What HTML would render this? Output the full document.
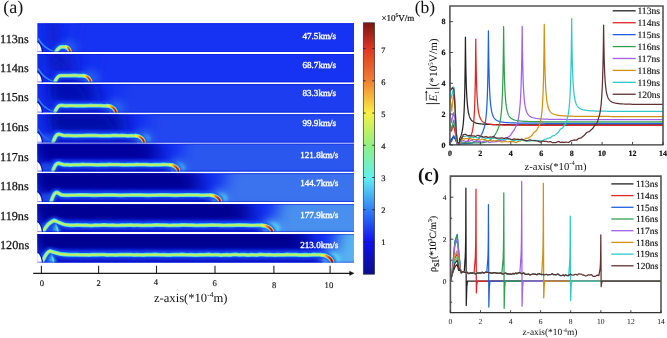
<!DOCTYPE html>
<html><head><meta charset="utf-8"><title>figure</title>
<style>html,body{margin:0;padding:0;background:#fff;width:667px;height:338px;overflow:hidden}#w{will-change:transform;width:667px;height:338px}svg{display:block}</style>
</head><body><div id="w">
<svg width="667" height="338" viewBox="0 0 667 338" font-family='"Liberation Serif", serif' fill="#111" text-rendering="geometricPrecision"><defs>
<linearGradient id="cbg" x1="0" y1="0" x2="0" y2="1"><stop offset="0.0000" stop-color="#7a1510"/><stop offset="0.1026" stop-color="#e03525"/><stop offset="0.2308" stop-color="#f08030"/><stop offset="0.3590" stop-color="#f8f040"/><stop offset="0.4872" stop-color="#90f080"/><stop offset="0.6154" stop-color="#60f0f0"/><stop offset="0.7436" stop-color="#3080f8"/><stop offset="0.8718" stop-color="#1010f0"/><stop offset="1.0000" stop-color="#0c0c8c"/></linearGradient>
<filter id="b1" x="-50%" y="-50%" width="200%" height="200%"><feGaussianBlur stdDeviation="0.6"/></filter>
<filter id="b2" x="-50%" y="-50%" width="200%" height="200%"><feGaussianBlur stdDeviation="1.5"/></filter>
<filter id="b4" x="-50%" y="-50%" width="200%" height="200%"><feGaussianBlur stdDeviation="4"/></filter>
<filter id="b8" x="-50%" y="-50%" width="200%" height="200%"><feGaussianBlur stdDeviation="8"/></filter>
<filter id="b12" x="-50%" y="-50%" width="200%" height="200%"><feGaussianBlur stdDeviation="12"/></filter>
</defs>
<clipPath id="clip0"><rect x="37.20" y="23.30" width="316.80" height="28.80"/></clipPath>
<g clip-path="url(#clip0)">
<rect x="37.20" y="21.30" width="316.80" height="32.80" fill="#1230f2"/>
<path d="M68.18 64.10 L78.18 11.30 L384.00 11.30 L384.00 64.10 Z" fill="#1230f2" filter="url(#b8)"/>
<path d="M45.20 17.30 L58.18 17.30 L62.18 46.70 L47.20 46.70 Z" fill="#0a1ecc" fill-opacity="0.7" filter="url(#b4)"/>
<ellipse cx="69.18" cy="48.10" rx="8.0" ry="7" fill="#2c64f0" filter="url(#b4)"/>
<path d="M38.00 38.10 Q43.20 48.10 54.20 51.60" stroke="#40a8f0" stroke-width="1.5" fill="none" stroke-opacity="0.75" filter="url(#b1)"/>
<path d="M37.70 24.30 L37.70 41.10" stroke="#3a90f0" stroke-width="2" fill="none" stroke-opacity="0.6" filter="url(#b2)"/>
<path d="M55.50 52.60 C57.50 49.10 59.00 46.70 62.50 46.70 C66.00 46.70 69.38 48.10 70.18 52.90" stroke="#1a50f0" stroke-width="7" fill="none" filter="url(#b2)"/>
<path d="M55.50 52.60 C57.50 49.10 59.00 46.70 62.50 46.70 C66.00 46.70 69.38 48.10 70.18 52.90" stroke="#40d8f0" stroke-width="3.9" fill="none" filter="url(#b1)"/>
<path d="M55.50 52.60 C57.50 49.10 59.00 46.70 62.50 46.70 C66.00 46.70 69.38 48.10 70.18 52.90" stroke="#98f0a0" stroke-width="2.6" fill="none" filter="url(#b1)"/>
<path d="M55.50 52.60 C57.50 49.10 59.00 46.70 62.50 46.70 C66.00 46.70 69.38 48.10 70.18 52.90" stroke="#c0f060" stroke-width="1.5" fill="none"/>
<linearGradient id="og0" gradientUnits="userSpaceOnUse" x1="65.18" y1="0" x2="70.18" y2="0"><stop offset="0.15" stop-color="#f0e040" stop-opacity="0"/><stop offset="0.55" stop-color="#f0a030"/><stop offset="1" stop-color="#f08020"/></linearGradient>
<linearGradient id="rg0" gradientUnits="userSpaceOnUse" x1="65.18" y1="0" x2="70.18" y2="0"><stop offset="0.35" stop-color="#f05020" stop-opacity="0"/><stop offset="0.75" stop-color="#e83a1c"/><stop offset="1" stop-color="#d82010"/></linearGradient>
<linearGradient id="dg0" gradientUnits="userSpaceOnUse" x1="65.18" y1="0" x2="70.18" y2="0"><stop offset="0.6" stop-color="#900c0c" stop-opacity="0"/><stop offset="0.85" stop-color="#900c0c" stop-opacity="0.5"/><stop offset="1" stop-color="#900c0c"/></linearGradient>
<path d="M64.68 46.70 C67.68 46.70 69.58 48.90 70.18 52.90" stroke="#48d8f0" stroke-width="4.0" fill="none" filter="url(#b1)"/>
<path d="M64.68 46.70 C67.68 46.70 69.58 48.90 70.18 52.90" stroke="#e8f040" stroke-width="2.7" fill="none"/>
<path d="M64.68 46.70 C67.68 46.70 69.58 48.90 70.18 52.90" stroke="url(#og0)" stroke-width="2.2" fill="none"/>
<path d="M64.68 46.70 C67.68 46.70 69.58 48.90 70.18 52.90" stroke="url(#rg0)" stroke-width="1.6" fill="none"/>
<path d="M37.00 42.10 C39.60 43.50 41.50 47.10 42.00 53.10" stroke="#0808b0" stroke-width="2.2" fill="none" filter="url(#b1)"/>
<path d="M36.20 42.10 L37.00 42.10 C39.60 43.50 41.50 47.10 42.00 53.10 L36.20 53.10 Z" fill="#fff"/>
<line x1="37.20" y1="23.75" x2="354.00" y2="23.75" stroke="#0814d8" stroke-opacity="0.55" stroke-width="0.9"/>
<line x1="37.20" y1="51.65" x2="354.00" y2="51.65" stroke="#0814d8" stroke-opacity="0.55" stroke-width="0.9"/>
</g>
<clipPath id="clip1"><rect x="37.20" y="54.00" width="316.80" height="28.30"/></clipPath>
<g clip-path="url(#clip1)">
<rect x="37.20" y="52.00" width="316.80" height="32.30" fill="#1230f2"/>
<path d="M88.68 94.30 L98.68 42.00 L384.00 42.00 L384.00 94.30 Z" fill="#1432f2" filter="url(#b8)"/>
<path d="M46.20 42.00 L67.08 42.00 L79.68 73.60 L49.20 73.60 Z" fill="#0816c0" fill-opacity="0.9" filter="url(#b8)"/>
<path d="M52.20 46.00 L46.55 46.00 L66.68 71.60 L55.20 71.60 Z" fill="#0816c0" filter="url(#b4)"/>
<rect x="51.20" y="70.10" width="35.48" height="5.00" fill="#0c22ea" fill-opacity="0.75" filter="url(#b2)"/>
<rect x="53.20" y="77.10" width="31.48" height="6.70" fill="#0a18cc" filter="url(#b1)"/>
<ellipse cx="89.68" cy="78.30" rx="9.2" ry="7" fill="#2c68f0" filter="url(#b4)"/>
<path d="M38.00 68.30 Q43.20 78.30 54.20 81.80" stroke="#40a8f0" stroke-width="1.5" fill="none" stroke-opacity="0.75" filter="url(#b1)"/>
<path d="M37.70 55.00 L37.70 71.30" stroke="#3a90f0" stroke-width="2" fill="none" stroke-opacity="0.6" filter="url(#b2)"/>
<path d="M54.70 82.80 C56.20 78.30 57.70 75.60 60.70 75.60 C62.70 75.60 63.70 75.60 66.70 75.60 L69.70 75.61 L72.70 75.46 L75.70 75.41 L78.70 75.80 L82.68 75.60 L82.68 75.60 C87.10 75.60 90.68 78.96 90.68 83.10" stroke="#1a50f0" stroke-width="7" fill="none" filter="url(#b2)"/>
<path d="M54.70 82.80 C56.20 78.30 57.70 75.60 60.70 75.60 C62.70 75.60 63.70 75.60 66.70 75.60 L69.70 75.61 L72.70 75.46 L75.70 75.41 L78.70 75.80 L82.68 75.60 L82.68 75.60 C87.10 75.60 90.68 78.96 90.68 83.10" stroke="#40d8f0" stroke-width="3.9" fill="none" filter="url(#b1)"/>
<path d="M54.70 82.80 C56.20 78.30 57.70 75.60 60.70 75.60 C62.70 75.60 63.70 75.60 66.70 75.60 L69.70 75.61 L72.70 75.46 L75.70 75.41 L78.70 75.80 L82.68 75.60 L82.68 75.60 C87.10 75.60 90.68 78.96 90.68 83.10" stroke="#98f0a0" stroke-width="2.6" fill="none" filter="url(#b1)"/>
<path d="M54.70 82.80 C56.20 78.30 57.70 75.60 60.70 75.60 C62.70 75.60 63.70 75.60 66.70 75.60 L69.70 75.61 L72.70 75.46 L75.70 75.41 L78.70 75.80 L82.68 75.60" stroke="#c0f060" stroke-width="1.5" fill="none"/>
<linearGradient id="og1" gradientUnits="userSpaceOnUse" x1="82.68" y1="0" x2="90.68" y2="0"><stop offset="0.15" stop-color="#f0e040" stop-opacity="0"/><stop offset="0.55" stop-color="#f0a030"/><stop offset="1" stop-color="#f08020"/></linearGradient>
<linearGradient id="rg1" gradientUnits="userSpaceOnUse" x1="82.68" y1="0" x2="90.68" y2="0"><stop offset="0.35" stop-color="#f05020" stop-opacity="0"/><stop offset="0.75" stop-color="#e83a1c"/><stop offset="1" stop-color="#d82010"/></linearGradient>
<linearGradient id="dg1" gradientUnits="userSpaceOnUse" x1="82.68" y1="0" x2="90.68" y2="0"><stop offset="0.6" stop-color="#900c0c" stop-opacity="0"/><stop offset="0.85" stop-color="#900c0c" stop-opacity="0.5"/><stop offset="1" stop-color="#900c0c"/></linearGradient>
<path d="M82.68 75.60 C87.10 75.60 90.68 78.96 90.68 83.10" stroke="#48d8f0" stroke-width="4.0" fill="none" filter="url(#b1)"/>
<path d="M82.68 75.60 C87.10 75.60 90.68 78.96 90.68 83.10" stroke="#e8f040" stroke-width="2.7" fill="none"/>
<path d="M82.68 75.60 C87.10 75.60 90.68 78.96 90.68 83.10" stroke="url(#og1)" stroke-width="2.2" fill="none"/>
<path d="M82.68 75.60 C87.10 75.60 90.68 78.96 90.68 83.10" stroke="url(#rg1)" stroke-width="1.6" fill="none"/>
<path d="M37.00 72.30 C39.60 73.70 41.50 77.30 42.00 83.30" stroke="#0808b0" stroke-width="2.2" fill="none" filter="url(#b1)"/>
<path d="M36.20 72.30 L37.00 72.30 C39.60 73.70 41.50 77.30 42.00 83.30 L36.20 83.30 Z" fill="#fff"/>
<line x1="37.20" y1="54.45" x2="354.00" y2="54.45" stroke="#0814d8" stroke-opacity="0.55" stroke-width="0.9"/>
<line x1="37.20" y1="81.85" x2="354.00" y2="81.85" stroke="#0814d8" stroke-opacity="0.55" stroke-width="0.9"/>
</g>
<clipPath id="clip2"><rect x="37.20" y="84.10" width="316.80" height="28.40"/></clipPath>
<g clip-path="url(#clip2)">
<rect x="37.20" y="82.10" width="316.80" height="32.40" fill="#1230f2"/>
<path d="M113.95 124.50 L123.95 72.10 L384.00 72.10 L384.00 124.50 Z" fill="#1a3cf0" filter="url(#b8)"/>
<path d="M46.20 72.10 L91.59 72.10 L103.95 103.70 L49.20 103.70 Z" fill="#0610b4" fill-opacity="0.9" filter="url(#b8)"/>
<path d="M52.20 76.10 L70.80 76.10 L90.95 101.70 L55.20 101.70 Z" fill="#0610b4" filter="url(#b4)"/>
<rect x="51.20" y="100.20" width="59.75" height="5.00" fill="#0c22ea" fill-opacity="0.75" filter="url(#b2)"/>
<rect x="53.20" y="107.20" width="55.75" height="6.80" fill="#0a18cc" filter="url(#b1)"/>
<ellipse cx="114.95" cy="108.50" rx="9.6" ry="7" fill="#3070f0" filter="url(#b4)"/>
<path d="M38.00 98.50 Q43.20 108.50 54.20 112.00" stroke="#40a8f0" stroke-width="1.5" fill="none" stroke-opacity="0.70" filter="url(#b1)"/>
<path d="M37.70 85.10 L37.70 101.50" stroke="#3a90f0" stroke-width="2" fill="none" stroke-opacity="0.6" filter="url(#b2)"/>
<path d="M54.70 113.00 C56.20 108.50 57.70 105.40 60.70 105.40 C62.70 105.40 63.70 105.70 66.70 105.70 L69.70 105.58 L72.70 105.66 L75.70 105.81 L78.70 105.82 L81.70 105.81 L84.70 105.80 L87.70 105.67 L90.70 105.57 L93.70 105.59 L96.70 105.59 L99.70 105.64 L102.70 105.80 L105.70 105.83 L106.95 105.70 L106.95 105.70 C111.93 105.70 115.95 109.10 115.95 113.30" stroke="#1a50f0" stroke-width="7" fill="none" filter="url(#b2)"/>
<path d="M54.70 113.00 C56.20 108.50 57.70 105.40 60.70 105.40 C62.70 105.40 63.70 105.70 66.70 105.70 L69.70 105.58 L72.70 105.66 L75.70 105.81 L78.70 105.82 L81.70 105.81 L84.70 105.80 L87.70 105.67 L90.70 105.57 L93.70 105.59 L96.70 105.59 L99.70 105.64 L102.70 105.80 L105.70 105.83 L106.95 105.70 L106.95 105.70 C111.93 105.70 115.95 109.10 115.95 113.30" stroke="#40d8f0" stroke-width="3.9" fill="none" filter="url(#b1)"/>
<path d="M54.70 113.00 C56.20 108.50 57.70 105.40 60.70 105.40 C62.70 105.40 63.70 105.70 66.70 105.70 L69.70 105.58 L72.70 105.66 L75.70 105.81 L78.70 105.82 L81.70 105.81 L84.70 105.80 L87.70 105.67 L90.70 105.57 L93.70 105.59 L96.70 105.59 L99.70 105.64 L102.70 105.80 L105.70 105.83 L106.95 105.70 L106.95 105.70 C111.93 105.70 115.95 109.10 115.95 113.30" stroke="#98f0a0" stroke-width="2.6" fill="none" filter="url(#b1)"/>
<path d="M54.70 113.00 C56.20 108.50 57.70 105.40 60.70 105.40 C62.70 105.40 63.70 105.70 66.70 105.70 L69.70 105.58 L72.70 105.66 L75.70 105.81 L78.70 105.82 L81.70 105.81 L84.70 105.80 L87.70 105.67 L90.70 105.57 L93.70 105.59 L96.70 105.59 L99.70 105.64 L102.70 105.80 L105.70 105.83 L106.95 105.70" stroke="#c0f060" stroke-width="1.5" fill="none"/>
<linearGradient id="og2" gradientUnits="userSpaceOnUse" x1="106.95" y1="0" x2="115.95" y2="0"><stop offset="0.15" stop-color="#f0e040" stop-opacity="0"/><stop offset="0.55" stop-color="#f0a030"/><stop offset="1" stop-color="#f08020"/></linearGradient>
<linearGradient id="rg2" gradientUnits="userSpaceOnUse" x1="106.95" y1="0" x2="115.95" y2="0"><stop offset="0.35" stop-color="#f05020" stop-opacity="0"/><stop offset="0.75" stop-color="#e83a1c"/><stop offset="1" stop-color="#d82010"/></linearGradient>
<linearGradient id="dg2" gradientUnits="userSpaceOnUse" x1="106.95" y1="0" x2="115.95" y2="0"><stop offset="0.6" stop-color="#900c0c" stop-opacity="0"/><stop offset="0.85" stop-color="#900c0c" stop-opacity="0.5"/><stop offset="1" stop-color="#900c0c"/></linearGradient>
<path d="M106.95 105.70 C111.93 105.70 115.95 109.10 115.95 113.30" stroke="#48d8f0" stroke-width="4.0" fill="none" filter="url(#b1)"/>
<path d="M106.95 105.70 C111.93 105.70 115.95 109.10 115.95 113.30" stroke="#e8f040" stroke-width="2.7" fill="none"/>
<path d="M106.95 105.70 C111.93 105.70 115.95 109.10 115.95 113.30" stroke="url(#og2)" stroke-width="2.2" fill="none"/>
<path d="M106.95 105.70 C111.93 105.70 115.95 109.10 115.95 113.30" stroke="url(#rg2)" stroke-width="1.6" fill="none"/>
<path d="M106.95 105.70 C111.93 105.70 115.95 109.10 115.95 113.30" stroke="url(#dg2)" stroke-width="0.8" fill="none"/>
<path d="M37.00 102.50 C39.60 103.90 41.50 107.50 42.00 113.50" stroke="#0808b0" stroke-width="2.2" fill="none" filter="url(#b1)"/>
<path d="M36.20 102.50 L37.00 102.50 C39.60 103.90 41.50 107.50 42.00 113.50 L36.20 113.50 Z" fill="#fff"/>
<line x1="37.20" y1="84.55" x2="354.00" y2="84.55" stroke="#0814d8" stroke-opacity="0.55" stroke-width="0.9"/>
<line x1="37.20" y1="112.05" x2="354.00" y2="112.05" stroke="#0814d8" stroke-opacity="0.55" stroke-width="0.9"/>
</g>
<clipPath id="clip3"><rect x="37.20" y="114.30" width="316.80" height="28.30"/></clipPath>
<g clip-path="url(#clip3)">
<rect x="37.20" y="112.30" width="316.80" height="32.30" fill="#1230f2"/>
<path d="M141.97 154.60 L151.97 102.30 L384.00 102.30 L384.00 154.60 Z" fill="#2046f0" filter="url(#b8)"/>
<path d="M46.20 102.30 L118.77 102.30 L131.97 133.60 L49.20 133.60 Z" fill="#040aa8" fill-opacity="0.9" filter="url(#b8)"/>
<path d="M52.20 106.30 L97.70 106.30 L118.97 131.60 L55.20 131.60 Z" fill="#040aa8" filter="url(#b4)"/>
<rect x="51.20" y="130.10" width="87.77" height="5.00" fill="#0c22ea" fill-opacity="0.75" filter="url(#b2)"/>
<rect x="53.20" y="137.10" width="83.77" height="7.00" fill="#0a18cc" filter="url(#b1)"/>
<ellipse cx="142.97" cy="138.60" rx="9.6" ry="7" fill="#3478f0" filter="url(#b4)"/>
<ellipse cx="144.47" cy="139.10" rx="6.2" ry="4.4" fill="#58d0f0" fill-opacity="0.40" filter="url(#b2)"/>
<path d="M38.00 128.60 Q43.20 138.60 54.20 142.10" stroke="#40a8f0" stroke-width="1.5" fill="none" stroke-opacity="0.45" filter="url(#b1)"/>
<ellipse cx="47.20" cy="138.60" rx="8" ry="5" fill="#2a60f0" fill-opacity="0.55" filter="url(#b2)"/>
<path d="M52.80 143.10 C54.30 138.60 55.80 134.20 58.80 134.20 C60.80 134.20 61.80 135.60 64.80 135.60 L67.80 135.57 L70.80 135.60 L73.80 135.79 L76.80 135.73 L79.80 135.62 L82.80 135.67 L85.80 135.49 L88.80 135.40 L91.80 135.57 L94.80 135.52 L97.80 135.59 L100.80 135.82 L103.80 135.69 L106.80 135.64 L109.80 135.71 L112.80 135.45 L115.80 135.42 L118.80 135.59 L121.80 135.46 L124.80 135.61 L127.80 135.84 L130.80 135.64 L133.80 135.69 L134.97 135.60 L134.97 135.60 C139.94 135.60 143.97 139.09 143.97 143.40" stroke="#1a50f0" stroke-width="7" fill="none" filter="url(#b2)"/>
<path d="M52.80 143.10 C54.30 138.60 55.80 134.20 58.80 134.20 C60.80 134.20 61.80 135.60 64.80 135.60 L67.80 135.57 L70.80 135.60 L73.80 135.79 L76.80 135.73 L79.80 135.62 L82.80 135.67 L85.80 135.49 L88.80 135.40 L91.80 135.57 L94.80 135.52 L97.80 135.59 L100.80 135.82 L103.80 135.69 L106.80 135.64 L109.80 135.71 L112.80 135.45 L115.80 135.42 L118.80 135.59 L121.80 135.46 L124.80 135.61 L127.80 135.84 L130.80 135.64 L133.80 135.69 L134.97 135.60 L134.97 135.60 C139.94 135.60 143.97 139.09 143.97 143.40" stroke="#40d8f0" stroke-width="3.9" fill="none" filter="url(#b1)"/>
<path d="M52.80 143.10 C54.30 138.60 55.80 134.20 58.80 134.20 C60.80 134.20 61.80 135.60 64.80 135.60 L67.80 135.57 L70.80 135.60 L73.80 135.79 L76.80 135.73 L79.80 135.62 L82.80 135.67 L85.80 135.49 L88.80 135.40 L91.80 135.57 L94.80 135.52 L97.80 135.59 L100.80 135.82 L103.80 135.69 L106.80 135.64 L109.80 135.71 L112.80 135.45 L115.80 135.42 L118.80 135.59 L121.80 135.46 L124.80 135.61 L127.80 135.84 L130.80 135.64 L133.80 135.69 L134.97 135.60 L134.97 135.60 C139.94 135.60 143.97 139.09 143.97 143.40" stroke="#98f0a0" stroke-width="2.6" fill="none" filter="url(#b1)"/>
<path d="M52.80 143.10 C54.30 138.60 55.80 134.20 58.80 134.20 C60.80 134.20 61.80 135.60 64.80 135.60 L67.80 135.57 L70.80 135.60 L73.80 135.79 L76.80 135.73 L79.80 135.62 L82.80 135.67 L85.80 135.49 L88.80 135.40 L91.80 135.57 L94.80 135.52 L97.80 135.59 L100.80 135.82 L103.80 135.69 L106.80 135.64 L109.80 135.71 L112.80 135.45 L115.80 135.42 L118.80 135.59 L121.80 135.46 L124.80 135.61 L127.80 135.84 L130.80 135.64 L133.80 135.69 L134.97 135.60" stroke="#c0f060" stroke-width="1.5" fill="none"/>
<linearGradient id="og3" gradientUnits="userSpaceOnUse" x1="134.97" y1="0" x2="143.97" y2="0"><stop offset="0.15" stop-color="#f0e040" stop-opacity="0"/><stop offset="0.55" stop-color="#f0a030"/><stop offset="1" stop-color="#f08020"/></linearGradient>
<linearGradient id="rg3" gradientUnits="userSpaceOnUse" x1="134.97" y1="0" x2="143.97" y2="0"><stop offset="0.35" stop-color="#f05020" stop-opacity="0"/><stop offset="0.75" stop-color="#e83a1c"/><stop offset="1" stop-color="#d82010"/></linearGradient>
<linearGradient id="dg3" gradientUnits="userSpaceOnUse" x1="134.97" y1="0" x2="143.97" y2="0"><stop offset="0.6" stop-color="#900c0c" stop-opacity="0"/><stop offset="0.85" stop-color="#900c0c" stop-opacity="0.5"/><stop offset="1" stop-color="#900c0c"/></linearGradient>
<path d="M134.97 135.60 C139.94 135.60 143.97 139.09 143.97 143.40" stroke="#48d8f0" stroke-width="4.0" fill="none" filter="url(#b1)"/>
<path d="M134.97 135.60 C139.94 135.60 143.97 139.09 143.97 143.40" stroke="#e8f040" stroke-width="2.7" fill="none"/>
<path d="M134.97 135.60 C139.94 135.60 143.97 139.09 143.97 143.40" stroke="url(#og3)" stroke-width="2.2" fill="none"/>
<path d="M134.97 135.60 C139.94 135.60 143.97 139.09 143.97 143.40" stroke="url(#rg3)" stroke-width="1.6" fill="none"/>
<path d="M134.97 135.60 C139.94 135.60 143.97 139.09 143.97 143.40" stroke="url(#dg3)" stroke-width="0.8" fill="none"/>
<path d="M37.00 132.60 C39.60 134.00 41.50 137.60 42.00 143.60" stroke="#0808b0" stroke-width="2.2" fill="none" filter="url(#b1)"/>
<path d="M36.20 132.60 L37.00 132.60 C39.60 134.00 41.50 137.60 42.00 143.60 L36.20 143.60 Z" fill="#fff"/>
<line x1="37.20" y1="114.75" x2="354.00" y2="114.75" stroke="#0814d8" stroke-opacity="0.55" stroke-width="0.9"/>
<line x1="37.20" y1="142.15" x2="354.00" y2="142.15" stroke="#0814d8" stroke-opacity="0.55" stroke-width="0.9"/>
</g>
<clipPath id="clip4"><rect x="37.20" y="143.70" width="316.80" height="27.70"/></clipPath>
<g clip-path="url(#clip4)">
<rect x="37.20" y="141.70" width="316.80" height="31.70" fill="#1230f2"/>
<path d="M176.48 183.40 L186.48 131.70 L384.00 131.70 L384.00 183.40 Z" fill="#2a58ef" filter="url(#b8)"/>
<path d="M33.20 131.70 L152.24 131.70 L165.98 162.70 L36.20 162.70 Z" fill="#02069e" fill-opacity="0.9" filter="url(#b8)"/>
<path d="M39.20 135.70 L130.83 135.70 L152.98 160.70 L42.20 160.70 Z" fill="#02069e" filter="url(#b4)"/>
<rect x="51.20" y="159.20" width="121.78" height="5.00" fill="#0c22ea" fill-opacity="0.75" filter="url(#b2)"/>
<rect x="53.20" y="166.20" width="117.78" height="6.70" fill="#0a18cc" filter="url(#b1)"/>
<ellipse cx="177.48" cy="167.40" rx="9.8" ry="7" fill="#3a80f0" filter="url(#b4)"/>
<ellipse cx="178.98" cy="167.90" rx="6.3" ry="4.7" fill="#58d0f0" fill-opacity="0.50" filter="url(#b2)"/>
<ellipse cx="47.20" cy="167.40" rx="8" ry="5" fill="#2a60f0" fill-opacity="0.55" filter="url(#b2)"/>
<path d="M52.50 171.90 C54.00 167.40 55.50 163.30 58.50 163.30 C60.50 163.30 61.50 164.70 64.50 164.70 L67.50 164.78 L70.50 164.94 L73.50 164.72 L76.50 164.77 L79.50 164.75 L82.50 164.48 L85.50 164.59 L88.50 164.67 L91.50 164.59 L94.50 164.82 L97.50 164.89 L100.50 164.73 L103.50 164.81 L106.50 164.71 L109.50 164.50 L112.50 164.61 L115.50 164.62 L118.50 164.60 L121.50 164.82 L124.50 164.85 L127.50 164.77 L130.50 164.82 L133.50 164.69 L136.50 164.54 L139.50 164.61 L142.50 164.59 L145.50 164.62 L148.50 164.80 L151.50 164.83 L154.50 164.80 L157.50 164.81 L160.50 164.69 L163.50 164.57 L166.50 164.59 L168.98 164.70 L168.98 164.70 C174.23 164.70 178.48 168.06 178.48 172.20" stroke="#1a50f0" stroke-width="7" fill="none" filter="url(#b2)"/>
<path d="M52.50 171.90 C54.00 167.40 55.50 163.30 58.50 163.30 C60.50 163.30 61.50 164.70 64.50 164.70 L67.50 164.78 L70.50 164.94 L73.50 164.72 L76.50 164.77 L79.50 164.75 L82.50 164.48 L85.50 164.59 L88.50 164.67 L91.50 164.59 L94.50 164.82 L97.50 164.89 L100.50 164.73 L103.50 164.81 L106.50 164.71 L109.50 164.50 L112.50 164.61 L115.50 164.62 L118.50 164.60 L121.50 164.82 L124.50 164.85 L127.50 164.77 L130.50 164.82 L133.50 164.69 L136.50 164.54 L139.50 164.61 L142.50 164.59 L145.50 164.62 L148.50 164.80 L151.50 164.83 L154.50 164.80 L157.50 164.81 L160.50 164.69 L163.50 164.57 L166.50 164.59 L168.98 164.70 L168.98 164.70 C174.23 164.70 178.48 168.06 178.48 172.20" stroke="#40d8f0" stroke-width="3.9" fill="none" filter="url(#b1)"/>
<path d="M52.50 171.90 C54.00 167.40 55.50 163.30 58.50 163.30 C60.50 163.30 61.50 164.70 64.50 164.70 L67.50 164.78 L70.50 164.94 L73.50 164.72 L76.50 164.77 L79.50 164.75 L82.50 164.48 L85.50 164.59 L88.50 164.67 L91.50 164.59 L94.50 164.82 L97.50 164.89 L100.50 164.73 L103.50 164.81 L106.50 164.71 L109.50 164.50 L112.50 164.61 L115.50 164.62 L118.50 164.60 L121.50 164.82 L124.50 164.85 L127.50 164.77 L130.50 164.82 L133.50 164.69 L136.50 164.54 L139.50 164.61 L142.50 164.59 L145.50 164.62 L148.50 164.80 L151.50 164.83 L154.50 164.80 L157.50 164.81 L160.50 164.69 L163.50 164.57 L166.50 164.59 L168.98 164.70 L168.98 164.70 C174.23 164.70 178.48 168.06 178.48 172.20" stroke="#98f0a0" stroke-width="2.6" fill="none" filter="url(#b1)"/>
<path d="M52.50 171.90 C54.00 167.40 55.50 163.30 58.50 163.30 C60.50 163.30 61.50 164.70 64.50 164.70 L67.50 164.78 L70.50 164.94 L73.50 164.72 L76.50 164.77 L79.50 164.75 L82.50 164.48 L85.50 164.59 L88.50 164.67 L91.50 164.59 L94.50 164.82 L97.50 164.89 L100.50 164.73 L103.50 164.81 L106.50 164.71 L109.50 164.50 L112.50 164.61 L115.50 164.62 L118.50 164.60 L121.50 164.82 L124.50 164.85 L127.50 164.77 L130.50 164.82 L133.50 164.69 L136.50 164.54 L139.50 164.61 L142.50 164.59 L145.50 164.62 L148.50 164.80 L151.50 164.83 L154.50 164.80 L157.50 164.81 L160.50 164.69 L163.50 164.57 L166.50 164.59 L168.98 164.70" stroke="#c0f060" stroke-width="1.5" fill="none"/>
<linearGradient id="og4" gradientUnits="userSpaceOnUse" x1="168.98" y1="0" x2="178.48" y2="0"><stop offset="0.15" stop-color="#f0e040" stop-opacity="0"/><stop offset="0.55" stop-color="#f0a030"/><stop offset="1" stop-color="#f08020"/></linearGradient>
<linearGradient id="rg4" gradientUnits="userSpaceOnUse" x1="168.98" y1="0" x2="178.48" y2="0"><stop offset="0.35" stop-color="#f05020" stop-opacity="0"/><stop offset="0.75" stop-color="#e83a1c"/><stop offset="1" stop-color="#d82010"/></linearGradient>
<linearGradient id="dg4" gradientUnits="userSpaceOnUse" x1="168.98" y1="0" x2="178.48" y2="0"><stop offset="0.6" stop-color="#900c0c" stop-opacity="0"/><stop offset="0.85" stop-color="#900c0c" stop-opacity="0.5"/><stop offset="1" stop-color="#900c0c"/></linearGradient>
<path d="M168.98 164.70 C174.23 164.70 178.48 168.06 178.48 172.20" stroke="#48d8f0" stroke-width="4.0" fill="none" filter="url(#b1)"/>
<path d="M168.98 164.70 C174.23 164.70 178.48 168.06 178.48 172.20" stroke="#e8f040" stroke-width="2.7" fill="none"/>
<path d="M168.98 164.70 C174.23 164.70 178.48 168.06 178.48 172.20" stroke="url(#og4)" stroke-width="2.2" fill="none"/>
<path d="M168.98 164.70 C174.23 164.70 178.48 168.06 178.48 172.20" stroke="url(#rg4)" stroke-width="2.0" fill="none"/>
<path d="M168.98 164.70 C174.23 164.70 178.48 168.06 178.48 172.20" stroke="url(#dg4)" stroke-width="0.8" fill="none"/>
<path d="M37.00 161.40 C39.60 162.80 41.50 166.40 42.00 172.40" stroke="#0808b0" stroke-width="2.2" fill="none" filter="url(#b1)"/>
<path d="M36.20 161.40 L37.00 161.40 C39.60 162.80 41.50 166.40 42.00 172.40 L36.20 172.40 Z" fill="#fff"/>
<line x1="37.20" y1="144.15" x2="354.00" y2="144.15" stroke="#0814d8" stroke-opacity="0.55" stroke-width="0.9"/>
<line x1="37.20" y1="170.95" x2="354.00" y2="170.95" stroke="#0814d8" stroke-opacity="0.55" stroke-width="0.9"/>
</g>
<clipPath id="clip5"><rect x="37.20" y="173.20" width="316.80" height="28.80"/></clipPath>
<g clip-path="url(#clip5)">
<rect x="37.20" y="171.20" width="316.80" height="32.80" fill="#1230f2"/>
<path d="M218.36 214.00 L228.36 161.20 L384.00 161.20 L384.00 214.00 Z" fill="#3a72ee" filter="url(#b8)"/>
<path d="M33.20 161.20 L192.86 161.20 L206.86 193.10 L36.20 193.10 Z" fill="#010496" fill-opacity="0.9" filter="url(#b8)"/>
<path d="M39.20 165.20 L171.03 165.20 L193.86 191.10 L42.20 191.10 Z" fill="#010496" filter="url(#b4)"/>
<rect x="51.20" y="189.60" width="162.66" height="5.00" fill="#0c22ea" fill-opacity="0.75" filter="url(#b2)"/>
<rect x="53.20" y="196.60" width="158.66" height="6.90" fill="#0a18cc" filter="url(#b1)"/>
<ellipse cx="219.36" cy="198.00" rx="10.2" ry="7" fill="#4a98f0" filter="url(#b4)"/>
<ellipse cx="220.86" cy="198.50" rx="6.7" ry="5.0" fill="#58d0f0" fill-opacity="0.65" filter="url(#b2)"/>
<ellipse cx="47.20" cy="198.00" rx="8" ry="5" fill="#2a60f0" fill-opacity="0.55" filter="url(#b2)"/>
<path d="M50.80 202.50 C52.30 198.00 53.80 192.50 56.80 192.50 C58.80 192.50 59.80 195.10 62.80 195.10 L65.80 195.31 L68.80 195.24 L71.80 195.09 L74.80 195.14 L77.80 194.99 L80.80 194.90 L83.80 195.06 L86.80 195.07 L89.80 195.12 L92.80 195.29 L95.80 195.22 L98.80 195.13 L101.80 195.13 L104.80 194.98 L107.80 194.93 L110.80 195.03 L113.80 195.05 L116.80 195.13 L119.80 195.26 L122.80 195.23 L125.80 195.16 L128.80 195.12 L131.80 195.00 L134.80 194.94 L137.80 195.01 L140.80 195.06 L143.80 195.12 L146.80 195.25 L149.80 195.24 L152.80 195.16 L155.80 195.13 L158.80 195.02 L161.80 194.92 L164.80 195.00 L167.80 195.06 L170.80 195.10 L173.80 195.25 L176.80 195.25 L179.80 195.14 L182.80 195.15 L185.80 195.03 L188.80 194.90 L191.80 195.02 L194.80 195.05 L197.80 195.06 L200.80 195.28 L203.80 195.24 L206.80 195.13 L209.86 195.10 L209.86 195.10 C215.66 195.10 220.36 198.55 220.36 202.80" stroke="#1a50f0" stroke-width="7" fill="none" filter="url(#b2)"/>
<path d="M50.80 202.50 C52.30 198.00 53.80 192.50 56.80 192.50 C58.80 192.50 59.80 195.10 62.80 195.10 L65.80 195.31 L68.80 195.24 L71.80 195.09 L74.80 195.14 L77.80 194.99 L80.80 194.90 L83.80 195.06 L86.80 195.07 L89.80 195.12 L92.80 195.29 L95.80 195.22 L98.80 195.13 L101.80 195.13 L104.80 194.98 L107.80 194.93 L110.80 195.03 L113.80 195.05 L116.80 195.13 L119.80 195.26 L122.80 195.23 L125.80 195.16 L128.80 195.12 L131.80 195.00 L134.80 194.94 L137.80 195.01 L140.80 195.06 L143.80 195.12 L146.80 195.25 L149.80 195.24 L152.80 195.16 L155.80 195.13 L158.80 195.02 L161.80 194.92 L164.80 195.00 L167.80 195.06 L170.80 195.10 L173.80 195.25 L176.80 195.25 L179.80 195.14 L182.80 195.15 L185.80 195.03 L188.80 194.90 L191.80 195.02 L194.80 195.05 L197.80 195.06 L200.80 195.28 L203.80 195.24 L206.80 195.13 L209.86 195.10 L209.86 195.10 C215.66 195.10 220.36 198.55 220.36 202.80" stroke="#40d8f0" stroke-width="3.9" fill="none" filter="url(#b1)"/>
<path d="M50.80 202.50 C52.30 198.00 53.80 192.50 56.80 192.50 C58.80 192.50 59.80 195.10 62.80 195.10 L65.80 195.31 L68.80 195.24 L71.80 195.09 L74.80 195.14 L77.80 194.99 L80.80 194.90 L83.80 195.06 L86.80 195.07 L89.80 195.12 L92.80 195.29 L95.80 195.22 L98.80 195.13 L101.80 195.13 L104.80 194.98 L107.80 194.93 L110.80 195.03 L113.80 195.05 L116.80 195.13 L119.80 195.26 L122.80 195.23 L125.80 195.16 L128.80 195.12 L131.80 195.00 L134.80 194.94 L137.80 195.01 L140.80 195.06 L143.80 195.12 L146.80 195.25 L149.80 195.24 L152.80 195.16 L155.80 195.13 L158.80 195.02 L161.80 194.92 L164.80 195.00 L167.80 195.06 L170.80 195.10 L173.80 195.25 L176.80 195.25 L179.80 195.14 L182.80 195.15 L185.80 195.03 L188.80 194.90 L191.80 195.02 L194.80 195.05 L197.80 195.06 L200.80 195.28 L203.80 195.24 L206.80 195.13 L209.86 195.10 L209.86 195.10 C215.66 195.10 220.36 198.55 220.36 202.80" stroke="#98f0a0" stroke-width="2.6" fill="none" filter="url(#b1)"/>
<path d="M50.80 202.50 C52.30 198.00 53.80 192.50 56.80 192.50 C58.80 192.50 59.80 195.10 62.80 195.10 L65.80 195.31 L68.80 195.24 L71.80 195.09 L74.80 195.14 L77.80 194.99 L80.80 194.90 L83.80 195.06 L86.80 195.07 L89.80 195.12 L92.80 195.29 L95.80 195.22 L98.80 195.13 L101.80 195.13 L104.80 194.98 L107.80 194.93 L110.80 195.03 L113.80 195.05 L116.80 195.13 L119.80 195.26 L122.80 195.23 L125.80 195.16 L128.80 195.12 L131.80 195.00 L134.80 194.94 L137.80 195.01 L140.80 195.06 L143.80 195.12 L146.80 195.25 L149.80 195.24 L152.80 195.16 L155.80 195.13 L158.80 195.02 L161.80 194.92 L164.80 195.00 L167.80 195.06 L170.80 195.10 L173.80 195.25 L176.80 195.25 L179.80 195.14 L182.80 195.15 L185.80 195.03 L188.80 194.90 L191.80 195.02 L194.80 195.05 L197.80 195.06 L200.80 195.28 L203.80 195.24 L206.80 195.13 L209.86 195.10" stroke="#c0f060" stroke-width="1.5" fill="none"/>
<linearGradient id="og5" gradientUnits="userSpaceOnUse" x1="209.86" y1="0" x2="220.36" y2="0"><stop offset="0.15" stop-color="#f0e040" stop-opacity="0"/><stop offset="0.55" stop-color="#f0a030"/><stop offset="1" stop-color="#f08020"/></linearGradient>
<linearGradient id="rg5" gradientUnits="userSpaceOnUse" x1="209.86" y1="0" x2="220.36" y2="0"><stop offset="0.35" stop-color="#f05020" stop-opacity="0"/><stop offset="0.75" stop-color="#e83a1c"/><stop offset="1" stop-color="#d82010"/></linearGradient>
<linearGradient id="dg5" gradientUnits="userSpaceOnUse" x1="209.86" y1="0" x2="220.36" y2="0"><stop offset="0.6" stop-color="#900c0c" stop-opacity="0"/><stop offset="0.85" stop-color="#900c0c" stop-opacity="0.5"/><stop offset="1" stop-color="#900c0c"/></linearGradient>
<path d="M209.86 195.10 C215.66 195.10 220.36 198.55 220.36 202.80" stroke="#48d8f0" stroke-width="4.0" fill="none" filter="url(#b1)"/>
<path d="M209.86 195.10 C215.66 195.10 220.36 198.55 220.36 202.80" stroke="#e8f040" stroke-width="2.7" fill="none"/>
<path d="M209.86 195.10 C215.66 195.10 220.36 198.55 220.36 202.80" stroke="url(#og5)" stroke-width="2.2" fill="none"/>
<path d="M209.86 195.10 C215.66 195.10 220.36 198.55 220.36 202.80" stroke="url(#rg5)" stroke-width="2.0" fill="none"/>
<path d="M209.86 195.10 C215.66 195.10 220.36 198.55 220.36 202.80" stroke="url(#dg5)" stroke-width="1.1" fill="none"/>
<path d="M37.00 192.00 C39.60 193.40 41.50 197.00 42.00 203.00" stroke="#0808b0" stroke-width="2.2" fill="none" filter="url(#b1)"/>
<path d="M36.20 192.00 L37.00 192.00 C39.60 193.40 41.50 197.00 42.00 203.00 L36.20 203.00 Z" fill="#fff"/>
<line x1="37.20" y1="173.65" x2="354.00" y2="173.65" stroke="#0814d8" stroke-opacity="0.55" stroke-width="0.9"/>
<line x1="37.20" y1="201.55" x2="354.00" y2="201.55" stroke="#0814d8" stroke-opacity="0.55" stroke-width="0.9"/>
</g>
<clipPath id="clip6"><rect x="37.20" y="203.90" width="316.80" height="28.00"/></clipPath>
<g clip-path="url(#clip6)">
<rect x="37.20" y="201.90" width="316.80" height="32.00" fill="#1230f2"/>
<path d="M270.34 243.90 L280.34 191.90 L384.00 191.90 L384.00 243.90 Z" fill="#4a90ee" filter="url(#b8)"/>
<path d="M33.20 191.90 L243.29 191.90 L257.84 223.20 L36.20 223.20 Z" fill="#010392" fill-opacity="0.9" filter="url(#b8)"/>
<path d="M39.20 195.90 L220.93 195.90 L244.84 221.20 L42.20 221.20 Z" fill="#010392" filter="url(#b4)"/>
<rect x="51.20" y="219.70" width="213.64" height="5.00" fill="#0c22ea" fill-opacity="0.75" filter="url(#b2)"/>
<rect x="53.20" y="226.70" width="209.64" height="6.70" fill="#0a18cc" filter="url(#b1)"/>
<ellipse cx="271.34" cy="227.90" rx="10.6" ry="7" fill="#5cbcf0" filter="url(#b4)"/>
<ellipse cx="272.84" cy="228.40" rx="7.0" ry="5.3" fill="#58d0f0" fill-opacity="0.85" filter="url(#b2)"/>
<ellipse cx="47.20" cy="227.90" rx="8" ry="5" fill="#2a60f0" fill-opacity="0.55" filter="url(#b2)"/>
<path d="M54.20 221.50 L61.20 231.90 L53.20 231.90 Z" fill="#40b8f0" filter="url(#b2)"/>
<path d="M55.20 222.50 Q57.20 227.90 58.20 232.90" stroke="#60e0d0" stroke-width="1.6" fill="none" filter="url(#b1)"/>
<path d="M42.70 232.40 C45.70 226.90 50.20 221.50 54.20 220.50 C57.20 221.00 61.20 225.20 70.00 225.20 L71.00 225.14 L74.00 225.22 L77.00 224.93 L80.00 225.12 L83.00 225.31 L86.00 225.15 L89.00 225.37 L92.00 225.43 L95.00 225.12 L98.00 225.22 L101.00 225.17 L104.00 224.92 L107.00 225.17 L110.00 225.24 L113.00 225.15 L116.00 225.41 L119.00 225.37 L122.00 225.15 L125.00 225.26 L128.00 225.11 L131.00 224.95 L134.00 225.19 L137.00 225.17 L140.00 225.18 L143.00 225.42 L146.00 225.32 L149.00 225.20 L152.00 225.27 L155.00 225.07 L158.00 225.00 L161.00 225.17 L164.00 225.13 L167.00 225.21 L170.00 225.40 L173.00 225.30 L176.00 225.25 L179.00 225.26 L182.00 225.07 L185.00 225.04 L188.00 225.14 L191.00 225.12 L194.00 225.23 L197.00 225.37 L200.00 225.30 L203.00 225.28 L206.00 225.25 L209.00 225.09 L212.00 225.05 L215.00 225.11 L218.00 225.12 L221.00 225.23 L224.00 225.35 L227.00 225.32 L230.00 225.28 L233.00 225.24 L236.00 225.11 L239.00 225.04 L242.00 225.10 L245.00 225.13 L248.00 225.20 L251.00 225.34 L254.00 225.33 L257.00 225.27 L260.84 225.20 L260.84 225.20 C267.19 225.20 272.34 228.56 272.34 232.70" stroke="#1a50f0" stroke-width="7" fill="none" filter="url(#b2)"/>
<path d="M42.70 232.40 C45.70 226.90 50.20 221.50 54.20 220.50 C57.20 221.00 61.20 225.20 70.00 225.20 L71.00 225.14 L74.00 225.22 L77.00 224.93 L80.00 225.12 L83.00 225.31 L86.00 225.15 L89.00 225.37 L92.00 225.43 L95.00 225.12 L98.00 225.22 L101.00 225.17 L104.00 224.92 L107.00 225.17 L110.00 225.24 L113.00 225.15 L116.00 225.41 L119.00 225.37 L122.00 225.15 L125.00 225.26 L128.00 225.11 L131.00 224.95 L134.00 225.19 L137.00 225.17 L140.00 225.18 L143.00 225.42 L146.00 225.32 L149.00 225.20 L152.00 225.27 L155.00 225.07 L158.00 225.00 L161.00 225.17 L164.00 225.13 L167.00 225.21 L170.00 225.40 L173.00 225.30 L176.00 225.25 L179.00 225.26 L182.00 225.07 L185.00 225.04 L188.00 225.14 L191.00 225.12 L194.00 225.23 L197.00 225.37 L200.00 225.30 L203.00 225.28 L206.00 225.25 L209.00 225.09 L212.00 225.05 L215.00 225.11 L218.00 225.12 L221.00 225.23 L224.00 225.35 L227.00 225.32 L230.00 225.28 L233.00 225.24 L236.00 225.11 L239.00 225.04 L242.00 225.10 L245.00 225.13 L248.00 225.20 L251.00 225.34 L254.00 225.33 L257.00 225.27 L260.84 225.20 L260.84 225.20 C267.19 225.20 272.34 228.56 272.34 232.70" stroke="#40d8f0" stroke-width="3.9" fill="none" filter="url(#b1)"/>
<path d="M42.70 232.40 C45.70 226.90 50.20 221.50 54.20 220.50 C57.20 221.00 61.20 225.20 70.00 225.20 L71.00 225.14 L74.00 225.22 L77.00 224.93 L80.00 225.12 L83.00 225.31 L86.00 225.15 L89.00 225.37 L92.00 225.43 L95.00 225.12 L98.00 225.22 L101.00 225.17 L104.00 224.92 L107.00 225.17 L110.00 225.24 L113.00 225.15 L116.00 225.41 L119.00 225.37 L122.00 225.15 L125.00 225.26 L128.00 225.11 L131.00 224.95 L134.00 225.19 L137.00 225.17 L140.00 225.18 L143.00 225.42 L146.00 225.32 L149.00 225.20 L152.00 225.27 L155.00 225.07 L158.00 225.00 L161.00 225.17 L164.00 225.13 L167.00 225.21 L170.00 225.40 L173.00 225.30 L176.00 225.25 L179.00 225.26 L182.00 225.07 L185.00 225.04 L188.00 225.14 L191.00 225.12 L194.00 225.23 L197.00 225.37 L200.00 225.30 L203.00 225.28 L206.00 225.25 L209.00 225.09 L212.00 225.05 L215.00 225.11 L218.00 225.12 L221.00 225.23 L224.00 225.35 L227.00 225.32 L230.00 225.28 L233.00 225.24 L236.00 225.11 L239.00 225.04 L242.00 225.10 L245.00 225.13 L248.00 225.20 L251.00 225.34 L254.00 225.33 L257.00 225.27 L260.84 225.20 L260.84 225.20 C267.19 225.20 272.34 228.56 272.34 232.70" stroke="#98f0a0" stroke-width="2.6" fill="none" filter="url(#b1)"/>
<path d="M42.70 232.40 C45.70 226.90 50.20 221.50 54.20 220.50 C57.20 221.00 61.20 225.20 70.00 225.20 L71.00 225.14 L74.00 225.22 L77.00 224.93 L80.00 225.12 L83.00 225.31 L86.00 225.15 L89.00 225.37 L92.00 225.43 L95.00 225.12 L98.00 225.22 L101.00 225.17 L104.00 224.92 L107.00 225.17 L110.00 225.24 L113.00 225.15 L116.00 225.41 L119.00 225.37 L122.00 225.15 L125.00 225.26 L128.00 225.11 L131.00 224.95 L134.00 225.19 L137.00 225.17 L140.00 225.18 L143.00 225.42 L146.00 225.32 L149.00 225.20 L152.00 225.27 L155.00 225.07 L158.00 225.00 L161.00 225.17 L164.00 225.13 L167.00 225.21 L170.00 225.40 L173.00 225.30 L176.00 225.25 L179.00 225.26 L182.00 225.07 L185.00 225.04 L188.00 225.14 L191.00 225.12 L194.00 225.23 L197.00 225.37 L200.00 225.30 L203.00 225.28 L206.00 225.25 L209.00 225.09 L212.00 225.05 L215.00 225.11 L218.00 225.12 L221.00 225.23 L224.00 225.35 L227.00 225.32 L230.00 225.28 L233.00 225.24 L236.00 225.11 L239.00 225.04 L242.00 225.10 L245.00 225.13 L248.00 225.20 L251.00 225.34 L254.00 225.33 L257.00 225.27 L260.84 225.20" stroke="#c0f060" stroke-width="1.5" fill="none"/>
<linearGradient id="og6" gradientUnits="userSpaceOnUse" x1="260.84" y1="0" x2="272.34" y2="0"><stop offset="0.15" stop-color="#f0e040" stop-opacity="0"/><stop offset="0.55" stop-color="#f0a030"/><stop offset="1" stop-color="#f08020"/></linearGradient>
<linearGradient id="rg6" gradientUnits="userSpaceOnUse" x1="260.84" y1="0" x2="272.34" y2="0"><stop offset="0.35" stop-color="#f05020" stop-opacity="0"/><stop offset="0.75" stop-color="#e83a1c"/><stop offset="1" stop-color="#d82010"/></linearGradient>
<linearGradient id="dg6" gradientUnits="userSpaceOnUse" x1="260.84" y1="0" x2="272.34" y2="0"><stop offset="0.6" stop-color="#900c0c" stop-opacity="0"/><stop offset="0.85" stop-color="#900c0c" stop-opacity="0.5"/><stop offset="1" stop-color="#900c0c"/></linearGradient>
<path d="M260.84 225.20 C267.19 225.20 272.34 228.56 272.34 232.70" stroke="#48d8f0" stroke-width="4.0" fill="none" filter="url(#b1)"/>
<path d="M260.84 225.20 C267.19 225.20 272.34 228.56 272.34 232.70" stroke="#e8f040" stroke-width="2.7" fill="none"/>
<path d="M260.84 225.20 C267.19 225.20 272.34 228.56 272.34 232.70" stroke="url(#og6)" stroke-width="2.2" fill="none"/>
<path d="M260.84 225.20 C267.19 225.20 272.34 228.56 272.34 232.70" stroke="url(#rg6)" stroke-width="2.0" fill="none"/>
<path d="M260.84 225.20 C267.19 225.20 272.34 228.56 272.34 232.70" stroke="url(#dg6)" stroke-width="1.1" fill="none"/>
<path d="M37.00 221.90 C39.60 223.30 41.50 226.90 42.00 232.90" stroke="#0808b0" stroke-width="2.2" fill="none" filter="url(#b1)"/>
<path d="M36.20 221.90 L37.00 221.90 C39.60 223.30 41.50 226.90 42.00 232.90 L36.20 232.90 Z" fill="#fff"/>
<line x1="37.20" y1="204.35" x2="354.00" y2="204.35" stroke="#0814d8" stroke-opacity="0.55" stroke-width="0.9"/>
<line x1="37.20" y1="231.45" x2="354.00" y2="231.45" stroke="#0814d8" stroke-opacity="0.55" stroke-width="0.9"/>
</g>
<clipPath id="clip7"><rect x="37.20" y="233.90" width="316.80" height="28.70"/></clipPath>
<g clip-path="url(#clip7)">
<rect x="37.20" y="231.90" width="316.80" height="32.70" fill="#1230f2"/>
<path d="M330.41 274.60 L340.41 221.90 L384.00 221.90 L384.00 274.60 Z" fill="#58b4f0" filter="url(#b8)"/>
<path d="M33.20 221.90 L301.55 221.90 L317.41 252.80 L36.20 252.80 Z" fill="#010392" fill-opacity="0.9" filter="url(#b8)"/>
<path d="M39.20 225.90 L278.60 225.90 L304.41 250.80 L42.20 250.80 Z" fill="#010392" filter="url(#b4)"/>
<rect x="51.20" y="249.30" width="273.21" height="5.00" fill="#0c22ea" fill-opacity="0.75" filter="url(#b2)"/>
<rect x="53.20" y="256.30" width="269.21" height="7.80" fill="#0a18cc" filter="url(#b1)"/>
<ellipse cx="331.41" cy="258.60" rx="10.8" ry="7" fill="#68d0f0" filter="url(#b4)"/>
<ellipse cx="332.91" cy="259.10" rx="7.2" ry="5.6" fill="#58d0f0" fill-opacity="0.95" filter="url(#b2)"/>
<ellipse cx="47.20" cy="258.60" rx="8" ry="5" fill="#2a60f0" fill-opacity="0.55" filter="url(#b2)"/>
<path d="M50.00 252.10 L57.00 262.60 L49.00 262.60 Z" fill="#40b8f0" filter="url(#b2)"/>
<path d="M51.00 253.10 Q53.00 258.60 54.00 263.60" stroke="#60e0d0" stroke-width="1.6" fill="none" filter="url(#b1)"/>
<path d="M41.60 263.10 C44.60 257.60 46.00 252.10 50.00 251.10 C53.00 251.60 57.00 254.80 70.00 254.80 L71.00 254.72 L74.00 254.69 L77.00 254.66 L80.00 254.91 L83.00 254.92 L86.00 254.85 L89.00 254.99 L92.00 254.81 L95.00 254.64 L98.00 254.77 L101.00 254.65 L104.00 254.65 L107.00 254.94 L110.00 254.87 L113.00 254.87 L116.00 255.03 L119.00 254.76 L122.00 254.67 L125.00 254.80 L128.00 254.58 L131.00 254.68 L134.00 254.95 L137.00 254.80 L140.00 254.92 L143.00 255.05 L146.00 254.71 L149.00 254.74 L152.00 254.80 L155.00 254.53 L158.00 254.74 L161.00 254.92 L164.00 254.74 L167.00 254.99 L170.00 255.02 L173.00 254.69 L176.00 254.82 L179.00 254.76 L182.00 254.50 L185.00 254.80 L188.00 254.86 L191.00 254.72 L194.00 255.05 L197.00 254.96 L200.00 254.70 L203.00 254.90 L206.00 254.69 L209.00 254.51 L212.00 254.85 L215.00 254.77 L218.00 254.75 L221.00 255.10 L224.00 254.88 L227.00 254.75 L230.00 254.94 L233.00 254.62 L236.00 254.57 L239.00 254.86 L242.00 254.68 L245.00 254.80 L248.00 255.10 L251.00 254.82 L254.00 254.83 L257.00 254.94 L260.00 254.57 L263.00 254.65 L266.00 254.83 L269.00 254.63 L272.00 254.87 L275.00 255.05 L278.00 254.79 L281.00 254.92 L284.00 254.90 L287.00 254.55 L290.00 254.72 L293.00 254.77 L296.00 254.61 L299.00 254.93 L302.00 254.99 L305.00 254.80 L308.00 254.98 L311.00 254.84 L314.00 254.58 L317.00 254.76 L320.41 254.80 L320.41 254.80 C327.04 254.80 332.41 258.65 332.41 263.40" stroke="#1a50f0" stroke-width="7" fill="none" filter="url(#b2)"/>
<path d="M41.60 263.10 C44.60 257.60 46.00 252.10 50.00 251.10 C53.00 251.60 57.00 254.80 70.00 254.80 L71.00 254.72 L74.00 254.69 L77.00 254.66 L80.00 254.91 L83.00 254.92 L86.00 254.85 L89.00 254.99 L92.00 254.81 L95.00 254.64 L98.00 254.77 L101.00 254.65 L104.00 254.65 L107.00 254.94 L110.00 254.87 L113.00 254.87 L116.00 255.03 L119.00 254.76 L122.00 254.67 L125.00 254.80 L128.00 254.58 L131.00 254.68 L134.00 254.95 L137.00 254.80 L140.00 254.92 L143.00 255.05 L146.00 254.71 L149.00 254.74 L152.00 254.80 L155.00 254.53 L158.00 254.74 L161.00 254.92 L164.00 254.74 L167.00 254.99 L170.00 255.02 L173.00 254.69 L176.00 254.82 L179.00 254.76 L182.00 254.50 L185.00 254.80 L188.00 254.86 L191.00 254.72 L194.00 255.05 L197.00 254.96 L200.00 254.70 L203.00 254.90 L206.00 254.69 L209.00 254.51 L212.00 254.85 L215.00 254.77 L218.00 254.75 L221.00 255.10 L224.00 254.88 L227.00 254.75 L230.00 254.94 L233.00 254.62 L236.00 254.57 L239.00 254.86 L242.00 254.68 L245.00 254.80 L248.00 255.10 L251.00 254.82 L254.00 254.83 L257.00 254.94 L260.00 254.57 L263.00 254.65 L266.00 254.83 L269.00 254.63 L272.00 254.87 L275.00 255.05 L278.00 254.79 L281.00 254.92 L284.00 254.90 L287.00 254.55 L290.00 254.72 L293.00 254.77 L296.00 254.61 L299.00 254.93 L302.00 254.99 L305.00 254.80 L308.00 254.98 L311.00 254.84 L314.00 254.58 L317.00 254.76 L320.41 254.80 L320.41 254.80 C327.04 254.80 332.41 258.65 332.41 263.40" stroke="#40d8f0" stroke-width="3.9" fill="none" filter="url(#b1)"/>
<path d="M41.60 263.10 C44.60 257.60 46.00 252.10 50.00 251.10 C53.00 251.60 57.00 254.80 70.00 254.80 L71.00 254.72 L74.00 254.69 L77.00 254.66 L80.00 254.91 L83.00 254.92 L86.00 254.85 L89.00 254.99 L92.00 254.81 L95.00 254.64 L98.00 254.77 L101.00 254.65 L104.00 254.65 L107.00 254.94 L110.00 254.87 L113.00 254.87 L116.00 255.03 L119.00 254.76 L122.00 254.67 L125.00 254.80 L128.00 254.58 L131.00 254.68 L134.00 254.95 L137.00 254.80 L140.00 254.92 L143.00 255.05 L146.00 254.71 L149.00 254.74 L152.00 254.80 L155.00 254.53 L158.00 254.74 L161.00 254.92 L164.00 254.74 L167.00 254.99 L170.00 255.02 L173.00 254.69 L176.00 254.82 L179.00 254.76 L182.00 254.50 L185.00 254.80 L188.00 254.86 L191.00 254.72 L194.00 255.05 L197.00 254.96 L200.00 254.70 L203.00 254.90 L206.00 254.69 L209.00 254.51 L212.00 254.85 L215.00 254.77 L218.00 254.75 L221.00 255.10 L224.00 254.88 L227.00 254.75 L230.00 254.94 L233.00 254.62 L236.00 254.57 L239.00 254.86 L242.00 254.68 L245.00 254.80 L248.00 255.10 L251.00 254.82 L254.00 254.83 L257.00 254.94 L260.00 254.57 L263.00 254.65 L266.00 254.83 L269.00 254.63 L272.00 254.87 L275.00 255.05 L278.00 254.79 L281.00 254.92 L284.00 254.90 L287.00 254.55 L290.00 254.72 L293.00 254.77 L296.00 254.61 L299.00 254.93 L302.00 254.99 L305.00 254.80 L308.00 254.98 L311.00 254.84 L314.00 254.58 L317.00 254.76 L320.41 254.80 L320.41 254.80 C327.04 254.80 332.41 258.65 332.41 263.40" stroke="#98f0a0" stroke-width="2.6" fill="none" filter="url(#b1)"/>
<path d="M41.60 263.10 C44.60 257.60 46.00 252.10 50.00 251.10 C53.00 251.60 57.00 254.80 70.00 254.80 L71.00 254.72 L74.00 254.69 L77.00 254.66 L80.00 254.91 L83.00 254.92 L86.00 254.85 L89.00 254.99 L92.00 254.81 L95.00 254.64 L98.00 254.77 L101.00 254.65 L104.00 254.65 L107.00 254.94 L110.00 254.87 L113.00 254.87 L116.00 255.03 L119.00 254.76 L122.00 254.67 L125.00 254.80 L128.00 254.58 L131.00 254.68 L134.00 254.95 L137.00 254.80 L140.00 254.92 L143.00 255.05 L146.00 254.71 L149.00 254.74 L152.00 254.80 L155.00 254.53 L158.00 254.74 L161.00 254.92 L164.00 254.74 L167.00 254.99 L170.00 255.02 L173.00 254.69 L176.00 254.82 L179.00 254.76 L182.00 254.50 L185.00 254.80 L188.00 254.86 L191.00 254.72 L194.00 255.05 L197.00 254.96 L200.00 254.70 L203.00 254.90 L206.00 254.69 L209.00 254.51 L212.00 254.85 L215.00 254.77 L218.00 254.75 L221.00 255.10 L224.00 254.88 L227.00 254.75 L230.00 254.94 L233.00 254.62 L236.00 254.57 L239.00 254.86 L242.00 254.68 L245.00 254.80 L248.00 255.10 L251.00 254.82 L254.00 254.83 L257.00 254.94 L260.00 254.57 L263.00 254.65 L266.00 254.83 L269.00 254.63 L272.00 254.87 L275.00 255.05 L278.00 254.79 L281.00 254.92 L284.00 254.90 L287.00 254.55 L290.00 254.72 L293.00 254.77 L296.00 254.61 L299.00 254.93 L302.00 254.99 L305.00 254.80 L308.00 254.98 L311.00 254.84 L314.00 254.58 L317.00 254.76 L320.41 254.80" stroke="#c0f060" stroke-width="1.5" fill="none"/>
<linearGradient id="og7" gradientUnits="userSpaceOnUse" x1="320.41" y1="0" x2="332.41" y2="0"><stop offset="0.15" stop-color="#f0e040" stop-opacity="0"/><stop offset="0.55" stop-color="#f0a030"/><stop offset="1" stop-color="#f08020"/></linearGradient>
<linearGradient id="rg7" gradientUnits="userSpaceOnUse" x1="320.41" y1="0" x2="332.41" y2="0"><stop offset="0.35" stop-color="#f05020" stop-opacity="0"/><stop offset="0.75" stop-color="#e83a1c"/><stop offset="1" stop-color="#d82010"/></linearGradient>
<linearGradient id="dg7" gradientUnits="userSpaceOnUse" x1="320.41" y1="0" x2="332.41" y2="0"><stop offset="0.6" stop-color="#900c0c" stop-opacity="0"/><stop offset="0.85" stop-color="#900c0c" stop-opacity="0.5"/><stop offset="1" stop-color="#900c0c"/></linearGradient>
<path d="M320.41 254.80 C327.04 254.80 332.41 258.65 332.41 263.40" stroke="#48d8f0" stroke-width="4.0" fill="none" filter="url(#b1)"/>
<path d="M320.41 254.80 C327.04 254.80 332.41 258.65 332.41 263.40" stroke="#e8f040" stroke-width="2.7" fill="none"/>
<path d="M320.41 254.80 C327.04 254.80 332.41 258.65 332.41 263.40" stroke="url(#og7)" stroke-width="2.2" fill="none"/>
<path d="M320.41 254.80 C327.04 254.80 332.41 258.65 332.41 263.40" stroke="url(#rg7)" stroke-width="2.0" fill="none"/>
<path d="M320.41 254.80 C327.04 254.80 332.41 258.65 332.41 263.40" stroke="url(#dg7)" stroke-width="1.1" fill="none"/>
<path d="M37.00 252.60 C39.60 254.00 41.50 257.60 42.00 263.60" stroke="#0808b0" stroke-width="2.2" fill="none" filter="url(#b1)"/>
<path d="M36.20 252.60 L37.00 252.60 C39.60 254.00 41.50 257.60 42.00 263.60 L36.20 263.60 Z" fill="#fff"/>
<line x1="37.20" y1="234.35" x2="354.00" y2="234.35" stroke="#0814d8" stroke-opacity="0.55" stroke-width="0.9"/>
<line x1="37.20" y1="262.15" x2="354.00" y2="262.15" stroke="#0814d8" stroke-opacity="0.55" stroke-width="0.9"/>
</g>
<text x="319.3" y="38.6" font-size="9.1" fill="#fff" stroke="#fff" stroke-width="0.35" text-anchor="middle">47.5km/s</text>
<text x="319.3" y="67.5" font-size="9.1" fill="#fff" stroke="#fff" stroke-width="0.35" text-anchor="middle">68.7km/s</text>
<text x="319.3" y="96.3" font-size="9.1" fill="#fff" stroke="#fff" stroke-width="0.35" text-anchor="middle">83.3km/s</text>
<text x="319.3" y="125.7" font-size="9.1" fill="#fff" stroke="#fff" stroke-width="0.35" text-anchor="middle">99.9km/s</text>
<text x="319.3" y="157.7" font-size="9.1" fill="#fff" stroke="#fff" stroke-width="0.35" text-anchor="middle">121.8km/s</text>
<text x="319.3" y="185.7" font-size="9.1" fill="#fff" stroke="#fff" stroke-width="0.35" text-anchor="middle">144.7km/s</text>
<text x="319.3" y="217.8" font-size="9.1" fill="#fff" stroke="#fff" stroke-width="0.35" text-anchor="middle">177.9km/s</text>
<text x="319.3" y="248.0" font-size="9.1" fill="#fff" stroke="#fff" stroke-width="0.35" text-anchor="middle">213.0km/s</text>
<text x="0" y="42.7" font-size="12.2" stroke="#111" stroke-width="0.25">113ns</text>
<text x="0" y="72.1" font-size="12.2" stroke="#111" stroke-width="0.25">114ns</text>
<text x="0" y="101.3" font-size="12.2" stroke="#111" stroke-width="0.25">115ns</text>
<text x="0" y="131.3" font-size="12.2" stroke="#111" stroke-width="0.25">116ns</text>
<text x="0" y="160.5" font-size="12.2" stroke="#111" stroke-width="0.25">117ns</text>
<text x="0" y="190.4" font-size="12.2" stroke="#111" stroke-width="0.25">118ns</text>
<text x="0" y="219.6" font-size="12.2" stroke="#111" stroke-width="0.25">119ns</text>
<text x="0" y="248.9" font-size="12.2" stroke="#111" stroke-width="0.25">120ns</text>
<text x="3.2" y="12.8" font-size="18">(a)</text>
<line x1="33.2" y1="273.4" x2="351" y2="273.4" stroke="#1a1a1a" stroke-width="1.15"/>
<path d="M354 273.3 L349.6 271.2 L349.6 275.4 Z" fill="#111" stroke="#111" stroke-width="0.4" stroke-linejoin="round"/>
<line x1="41.40" y1="265.8" x2="41.40" y2="273.3" stroke="#222" stroke-width="1.1"/>
<text x="41.90" y="286.0" font-size="8.6" text-anchor="middle" stroke="#111" stroke-width="0.15">0</text>
<line x1="98.60" y1="265.8" x2="98.60" y2="273.3" stroke="#222" stroke-width="1.1"/>
<text x="98.60" y="286.0" font-size="8.6" text-anchor="middle" stroke="#111" stroke-width="0.15">2</text>
<line x1="156.50" y1="265.8" x2="156.50" y2="273.3" stroke="#222" stroke-width="1.1"/>
<text x="155.80" y="285.4" font-size="8.6" text-anchor="middle" stroke="#111" stroke-width="0.15">4</text>
<line x1="215.00" y1="265.8" x2="215.00" y2="273.3" stroke="#222" stroke-width="1.1"/>
<text x="214.70" y="286.2" font-size="8.6" text-anchor="middle" stroke="#111" stroke-width="0.15">6</text>
<line x1="273.90" y1="265.8" x2="273.90" y2="273.3" stroke="#222" stroke-width="1.1"/>
<text x="274.10" y="287.5" font-size="8.6" text-anchor="middle" stroke="#111" stroke-width="0.15">8</text>
<line x1="330.10" y1="265.8" x2="330.10" y2="273.3" stroke="#222" stroke-width="1.1"/>
<text x="328.90" y="287.5" font-size="8.6" text-anchor="middle" stroke="#111" stroke-width="0.15">10</text>
<text x="154" y="302" font-size="12.6">z-axis(*10<tspan font-size="7.5" dy="-5">-4</tspan><tspan dy="5">m)</tspan></text>
<rect x="363.3" y="22.8" width="11.3" height="251.4" fill="url(#cbg)" stroke="#333" stroke-width="0.7"/>
<line x1="363.3" y1="241.97" x2="365.6" y2="241.97" stroke="#222" stroke-width="0.9"/>
<line x1="372.3" y1="241.97" x2="374.6" y2="241.97" stroke="#222" stroke-width="0.9"/>
<text x="381.3" y="245.00" font-size="8.4" stroke="#111" stroke-width="0.2">1</text>
<line x1="363.3" y1="209.74" x2="365.6" y2="209.74" stroke="#222" stroke-width="0.9"/>
<line x1="372.3" y1="209.74" x2="374.6" y2="209.74" stroke="#222" stroke-width="0.9"/>
<text x="381.3" y="212.50" font-size="8.4" stroke="#111" stroke-width="0.2">2</text>
<line x1="363.3" y1="177.51" x2="365.6" y2="177.51" stroke="#222" stroke-width="0.9"/>
<line x1="372.3" y1="177.51" x2="374.6" y2="177.51" stroke="#222" stroke-width="0.9"/>
<text x="381.3" y="180.80" font-size="8.4" stroke="#111" stroke-width="0.2">3</text>
<line x1="363.3" y1="145.28" x2="365.6" y2="145.28" stroke="#222" stroke-width="0.9"/>
<line x1="372.3" y1="145.28" x2="374.6" y2="145.28" stroke="#222" stroke-width="0.9"/>
<text x="381.3" y="148.80" font-size="8.4" stroke="#111" stroke-width="0.2">4</text>
<line x1="363.3" y1="113.05" x2="365.6" y2="113.05" stroke="#222" stroke-width="0.9"/>
<line x1="372.3" y1="113.05" x2="374.6" y2="113.05" stroke="#222" stroke-width="0.9"/>
<text x="381.3" y="116.90" font-size="8.4" stroke="#111" stroke-width="0.2">5</text>
<line x1="363.3" y1="80.82" x2="365.6" y2="80.82" stroke="#222" stroke-width="0.9"/>
<line x1="372.3" y1="80.82" x2="374.6" y2="80.82" stroke="#222" stroke-width="0.9"/>
<text x="381.3" y="84.90" font-size="8.4" stroke="#111" stroke-width="0.2">6</text>
<line x1="363.3" y1="48.59" x2="365.6" y2="48.59" stroke="#222" stroke-width="0.9"/>
<line x1="372.3" y1="48.59" x2="374.6" y2="48.59" stroke="#222" stroke-width="0.9"/>
<text x="381.3" y="53.20" font-size="8.4" stroke="#111" stroke-width="0.2">7</text>
<text x="381.5" y="20.9" font-size="9" stroke="#111" stroke-width="0.2">×10<tspan font-size="5.5" dy="-3.5">5</tspan><tspan dy="3.5">V/m</tspan></text>
<clipPath id="cpb"><rect x="449.90" y="6.00" width="213.10" height="138.90"/></clipPath>
<g clip-path="url(#cpb)" fill="none" stroke-width="1.25" stroke-linejoin="round">
<path d="M449.90 141.82 L452.94 137.20 L455.23 138.74 L457.51 144.44 L459.34 144.90 L459.64 138.72 L459.95 138.16 L460.25 137.53 L460.55 136.84 L460.86 136.06 L461.16 135.18 L461.47 134.18 L461.77 133.04 L462.08 131.71 L462.38 130.15 L462.68 128.29 L462.99 126.03 L463.29 123.24 L463.60 119.69 L463.90 115.09 L463.96 114.00 L464.02 112.85 L464.09 111.62 L464.15 110.32 L464.21 108.92 L464.27 107.44 L464.33 105.85 L464.39 104.15 L464.45 102.32 L464.51 100.36 L464.57 98.24 L464.63 95.96 L464.69 93.49 L464.75 90.82 L464.82 87.91 L464.88 84.75 L464.94 81.29 L465.00 77.51 L465.06 73.36 L465.12 68.78 L465.18 63.73 L465.24 58.13 L465.30 51.89 L465.36 44.92 L465.42 37.10 L465.42 37.10 L465.49 42.67 L465.55 47.73 L465.61 52.33 L465.67 56.54 L465.73 60.39 L465.79 63.92 L465.85 67.17 L465.91 70.17 L465.97 72.94 L466.03 75.50 L466.09 77.88 L466.15 80.09 L466.22 82.15 L466.28 84.07 L466.34 85.87 L466.40 87.54 L466.46 89.12 L466.52 90.59 L466.58 91.98 L466.64 93.28 L466.70 94.51 L466.76 95.66 L466.82 96.76 L466.89 97.79 L466.95 98.76 L467.25 102.94 L467.56 106.18 L467.86 108.76 L468.16 110.84 L468.47 112.54 L468.77 113.95 L469.08 115.13 L469.38 116.13 L469.69 116.98 L469.99 117.71 L470.29 118.35 L470.60 118.91 L470.90 119.39 L471.21 119.82 L471.51 120.21 L471.82 120.55 L472.12 120.85 L472.43 121.12 L472.73 121.37 L473.03 121.59 L473.34 121.79 L473.64 121.98 L473.95 122.15 L474.25 122.30 L474.56 122.44 L475.47 122.80 L476.38 123.09 L477.30 123.32 L478.21 123.51 L479.12 123.67 L480.04 123.80 L480.95 123.91 L481.86 124.00 L482.78 124.08 L483.69 124.15 L484.60 124.22 L485.51 124.27 L486.43 124.32 L487.34 124.36 L488.25 124.40 L489.17 124.43 L490.08 124.46 L490.99 124.49 L491.91 124.51 L492.82 124.54 L493.73 124.56 L494.65 124.58 L495.56 124.59 L496.47 124.61 L497.39 124.62 L498.30 124.64 L499.21 124.65 L500.13 124.66 L501.04 124.67 L501.95 124.68 L502.87 124.69 L503.78 124.70 L504.69 124.71 L505.61 124.71 L506.52 124.72 L507.43 124.73 L508.34 124.73 L509.26 124.74 L510.17 124.75 L511.08 124.75 L512.00 124.76 L512.91 124.76 L513.82 124.76 L514.74 124.77 L515.65 124.77 L516.56 124.78 L517.48 124.78 L518.39 124.78 L519.30 124.79 L520.22 124.79 L521.13 124.79 L522.04 124.79 L522.96 124.80 L523.87 124.80 L524.78 124.80 L525.70 124.80 L526.61 124.81 L527.52 124.81 L528.44 124.81 L529.35 124.81 L530.26 124.81 L531.17 124.82 L532.09 124.82 L533.00 124.82 L533.91 124.82 L534.83 124.82 L535.74 124.82 L536.65 124.83 L537.57 124.83 L538.48 124.83 L539.39 124.83 L540.31 124.83 L541.22 124.83 L542.13 124.83 L543.05 124.83 L543.96 124.83 L544.87 124.84 L545.79 124.84 L546.70 124.84 L547.61 124.84 L548.53 124.84 L549.44 124.84 L550.35 124.84 L551.27 124.84 L552.18 124.84 L553.09 124.84 L554.00 124.84 L554.92 124.84 L555.83 124.85 L556.74 124.85 L557.66 124.85 L558.57 124.85 L559.48 124.85 L560.40 124.85 L561.31 124.85 L562.22 124.85 L563.14 124.85 L564.05 124.85 L564.96 124.85 L565.88 124.85 L566.79 124.85 L567.70 124.85 L568.62 124.85 L569.53 124.85 L570.44 124.85 L571.36 124.85 L572.27 124.86 L573.18 124.86 L574.10 124.86 L575.01 124.86 L575.92 124.86 L576.83 124.86 L577.75 124.86 L578.66 124.86 L579.57 124.86 L580.49 124.86 L581.40 124.86 L582.31 124.86 L583.23 124.86 L584.14 124.86 L585.05 124.86 L585.97 124.86 L586.88 124.86 L587.79 124.86 L588.71 124.86 L589.62 124.86 L590.53 124.86 L591.45 124.86 L592.36 124.86 L593.27 124.86 L594.19 124.86 L595.10 124.86 L596.01 124.86 L596.93 124.86 L597.84 124.86 L598.75 124.86 L599.66 124.86 L600.58 124.86 L601.49 124.86 L602.40 124.86 L603.32 124.87 L604.23 124.87 L605.14 124.87 L606.06 124.87 L606.97 124.87 L607.88 124.87 L608.80 124.87 L609.71 124.87 L610.62 124.87 L611.54 124.87 L612.45 124.87 L613.36 124.87 L614.28 124.87 L615.19 124.87 L616.10 124.87 L617.02 124.87 L617.93 124.87 L618.84 124.87 L619.76 124.87 L620.67 124.87 L621.58 124.87 L622.49 124.87 L623.41 124.87 L624.32 124.87 L625.23 124.87 L626.15 124.87 L627.06 124.87 L627.97 124.87 L628.89 124.87 L629.80 124.87 L630.71 124.87 L631.63 124.87 L632.54 124.87 L633.45 124.87 L634.37 124.87 L635.28 124.87 L636.19 124.87 L637.11 124.87 L638.02 124.87 L638.93 124.87 L639.85 124.87 L640.76 124.87 L641.67 124.87 L642.59 124.87 L643.50 124.87 L644.41 124.87 L645.32 124.87 L646.24 124.87 L647.15 124.87 L648.06 124.87 L648.98 124.87 L649.89 124.87 L650.80 124.87 L651.72 124.87 L652.63 124.87 L653.54 124.87 L654.46 124.87 L655.37 124.87 L656.28 124.87 L657.20 124.87 L658.11 124.87 L659.02 124.87 L659.94 124.87 L660.85 124.87 L661.76 124.87 L662.68 124.87 L663.59 124.87 L664.50 124.87 L665.42 124.87" stroke="#222222"/>
<path d="M449.90 129.50 L451.42 131.04 L453.70 124.88 L455.99 137.20 L457.51 144.13 L459.34 144.90 L459.64 143.83 L460.55 143.73 L461.47 143.60 L462.38 143.44 L463.29 143.22 L464.21 142.94 L465.12 142.58 L466.03 142.09 L466.95 141.47 L467.25 141.22 L467.56 140.95 L467.86 140.66 L468.16 140.34 L468.47 140.00 L468.77 139.62 L469.08 139.22 L469.38 138.77 L469.69 138.29 L469.99 137.77 L470.29 137.20 L470.60 136.56 L470.90 135.87 L471.21 135.09 L471.51 134.22 L471.82 133.24 L472.12 132.12 L472.43 130.83 L472.73 129.31 L473.03 127.50 L473.34 125.30 L473.64 122.59 L473.95 119.16 L474.25 114.69 L474.31 113.64 L474.37 112.52 L474.43 111.33 L474.50 110.07 L474.56 108.72 L474.62 107.28 L474.68 105.74 L474.74 104.09 L474.80 102.32 L474.86 100.41 L474.92 98.36 L474.98 96.15 L475.04 93.76 L475.10 91.17 L475.17 88.35 L475.23 85.28 L475.29 81.93 L475.35 78.27 L475.41 74.24 L475.47 69.81 L475.53 64.91 L475.59 59.48 L475.65 53.44 L475.71 46.68 L475.77 39.10 L475.77 39.10 L475.83 44.58 L475.90 49.55 L475.96 54.07 L476.02 58.20 L476.08 61.98 L476.14 65.45 L476.20 68.65 L476.26 71.59 L476.32 74.31 L476.38 76.83 L476.44 79.17 L476.50 81.34 L476.57 83.36 L476.63 85.25 L476.69 87.01 L476.75 88.66 L476.81 90.21 L476.87 91.65 L476.93 93.02 L476.99 94.30 L477.05 95.50 L477.11 96.64 L477.17 97.71 L477.24 98.72 L477.30 99.68 L477.60 103.78 L477.90 106.97 L478.21 109.50 L478.51 111.54 L478.82 113.21 L479.12 114.60 L479.43 115.76 L479.73 116.74 L480.04 117.58 L480.34 118.30 L480.64 118.93 L480.95 119.47 L481.25 119.95 L481.56 120.37 L481.86 120.75 L482.17 121.08 L482.47 121.38 L482.78 121.65 L483.08 121.89 L483.38 122.11 L483.69 122.31 L483.99 122.49 L484.30 122.66 L484.60 122.81 L484.91 122.95 L485.82 123.30 L486.73 123.58 L487.65 123.81 L488.56 123.99 L489.47 124.15 L490.39 124.28 L491.30 124.39 L492.21 124.48 L493.12 124.56 L494.04 124.63 L494.95 124.69 L495.86 124.74 L496.78 124.79 L497.69 124.83 L498.60 124.87 L499.52 124.90 L500.43 124.93 L501.34 124.96 L502.26 124.98 L503.17 125.01 L504.08 125.03 L505.00 125.04 L505.91 125.06 L506.82 125.08 L507.74 125.09 L508.65 125.10 L509.56 125.12 L510.48 125.13 L511.39 125.14 L512.30 125.15 L513.22 125.16 L514.13 125.16 L515.04 125.17 L515.95 125.18 L516.87 125.19 L517.78 125.19 L518.69 125.20 L519.61 125.20 L520.52 125.21 L521.43 125.21 L522.35 125.22 L523.26 125.22 L524.17 125.23 L525.09 125.23 L526.00 125.24 L526.91 125.24 L527.83 125.24 L528.74 125.25 L529.65 125.25 L530.57 125.25 L531.48 125.26 L532.39 125.26 L533.31 125.26 L534.22 125.26 L535.13 125.27 L536.05 125.27 L536.96 125.27 L537.87 125.27 L538.78 125.27 L539.70 125.28 L540.61 125.28 L541.52 125.28 L542.44 125.28 L543.35 125.28 L544.26 125.28 L545.18 125.29 L546.09 125.29 L547.00 125.29 L547.92 125.29 L548.83 125.29 L549.74 125.29 L550.66 125.29 L551.57 125.29 L552.48 125.30 L553.40 125.30 L554.31 125.30 L555.22 125.30 L556.14 125.30 L557.05 125.30 L557.96 125.30 L558.88 125.30 L559.79 125.30 L560.70 125.30 L561.61 125.30 L562.53 125.31 L563.44 125.31 L564.35 125.31 L565.27 125.31 L566.18 125.31 L567.09 125.31 L568.01 125.31 L568.92 125.31 L569.83 125.31 L570.75 125.31 L571.66 125.31 L572.57 125.31 L573.49 125.31 L574.40 125.31 L575.31 125.31 L576.23 125.31 L577.14 125.31 L578.05 125.32 L578.97 125.32 L579.88 125.32 L580.79 125.32 L581.71 125.32 L582.62 125.32 L583.53 125.32 L584.44 125.32 L585.36 125.32 L586.27 125.32 L587.18 125.32 L588.10 125.32 L589.01 125.32 L589.92 125.32 L590.84 125.32 L591.75 125.32 L592.66 125.32 L593.58 125.32 L594.49 125.32 L595.40 125.32 L596.32 125.32 L597.23 125.32 L598.14 125.32 L599.06 125.32 L599.97 125.32 L600.88 125.32 L601.80 125.32 L602.71 125.32 L603.62 125.32 L604.54 125.33 L605.45 125.33 L606.36 125.33 L607.27 125.33 L608.19 125.33 L609.10 125.33 L610.01 125.33 L610.93 125.33 L611.84 125.33 L612.75 125.33 L613.67 125.33 L614.58 125.33 L615.49 125.33 L616.41 125.33 L617.32 125.33 L618.23 125.33 L619.15 125.33 L620.06 125.33 L620.97 125.33 L621.89 125.33 L622.80 125.33 L623.71 125.33 L624.63 125.33 L625.54 125.33 L626.45 125.33 L627.37 125.33 L628.28 125.33 L629.19 125.33 L630.10 125.33 L631.02 125.33 L631.93 125.33 L632.84 125.33 L633.76 125.33 L634.67 125.33 L635.58 125.33 L636.50 125.33 L637.41 125.33 L638.32 125.33 L639.24 125.33 L640.15 125.33 L641.06 125.33 L641.98 125.33 L642.89 125.33 L643.80 125.33 L644.72 125.33 L645.63 125.33 L646.54 125.33 L647.46 125.33 L648.37 125.33 L649.28 125.33 L650.20 125.33 L651.11 125.33 L652.02 125.33 L652.93 125.33 L653.85 125.33 L654.76 125.33 L655.67 125.33 L656.59 125.33 L657.50 125.33 L658.41 125.33 L659.33 125.33 L660.24 125.33 L661.15 125.33 L662.07 125.33 L662.98 125.33 L663.89 125.33 L664.81 125.33 L665.72 125.33" stroke="#e02525"/>
<path d="M449.90 139.51 L451.42 141.82 L453.70 135.66 L455.99 140.28 L457.51 144.13 L459.34 144.59 L459.64 143.76 L460.55 143.75 L461.47 143.74 L462.38 143.72 L463.29 143.70 L464.21 143.68 L465.12 143.65 L466.03 143.62 L466.95 143.57 L467.86 143.51 L468.77 143.43 L469.69 143.33 L470.60 143.20 L471.51 143.02 L472.43 142.80 L473.34 142.51 L474.25 142.14 L475.17 141.68 L476.08 141.10 L476.99 140.41 L477.90 139.57 L478.82 138.57 L479.73 137.40 L480.04 136.97 L480.34 136.52 L480.64 136.04 L480.95 135.54 L481.25 135.01 L481.56 134.45 L481.86 133.86 L482.17 133.23 L482.47 132.56 L482.78 131.85 L483.08 131.08 L483.38 130.26 L483.69 129.36 L483.99 128.37 L484.30 127.27 L484.60 126.04 L484.91 124.64 L485.21 123.03 L485.51 121.15 L485.82 118.92 L486.12 116.20 L486.43 112.85 L486.73 108.60 L487.04 103.08 L487.10 101.78 L487.16 100.39 L487.22 98.92 L487.28 97.35 L487.34 95.68 L487.40 93.89 L487.46 91.98 L487.52 89.94 L487.58 87.74 L487.65 85.38 L487.71 82.84 L487.77 80.10 L487.83 77.13 L487.89 73.92 L487.95 70.42 L488.01 66.62 L488.07 62.46 L488.13 57.91 L488.19 52.91 L488.25 47.41 L488.32 41.33 L488.38 34.59 L488.41 30.94 L488.44 33.94 L488.50 39.53 L488.56 44.61 L488.62 49.24 L488.68 53.47 L488.74 57.35 L488.80 60.92 L488.86 64.20 L488.92 67.24 L488.98 70.04 L489.05 72.64 L489.11 75.05 L489.17 77.30 L489.23 79.39 L489.29 81.35 L489.35 83.17 L489.41 84.88 L489.47 86.48 L489.53 87.99 L489.59 89.40 L489.65 90.73 L489.72 91.99 L489.78 93.17 L489.84 94.29 L489.90 95.34 L489.96 96.34 L490.26 100.62 L490.57 103.96 L490.87 106.61 L491.18 108.75 L491.48 110.51 L491.79 111.96 L492.09 113.19 L492.39 114.22 L492.70 115.11 L493.00 115.87 L493.31 116.53 L493.61 117.11 L493.92 117.61 L494.22 118.06 L494.53 118.46 L494.83 118.81 L495.13 119.13 L495.44 119.41 L495.74 119.67 L496.05 119.90 L496.35 120.11 L496.66 120.30 L496.96 120.48 L497.26 120.64 L497.57 120.79 L498.48 121.16 L499.40 121.46 L500.31 121.70 L501.22 121.90 L502.14 122.07 L503.05 122.20 L503.96 122.32 L504.87 122.42 L505.79 122.50 L506.70 122.58 L507.61 122.64 L508.53 122.70 L509.44 122.75 L510.35 122.79 L511.27 122.83 L512.18 122.87 L513.09 122.90 L514.01 122.93 L514.92 122.96 L515.83 122.98 L516.75 123.00 L517.66 123.02 L518.57 123.04 L519.49 123.06 L520.40 123.07 L521.31 123.08 L522.23 123.10 L523.14 123.11 L524.05 123.12 L524.97 123.13 L525.88 123.14 L526.79 123.15 L527.70 123.16 L528.62 123.17 L529.53 123.17 L530.44 123.18 L531.36 123.19 L532.27 123.19 L533.18 123.20 L534.10 123.20 L535.01 123.21 L535.92 123.21 L536.84 123.22 L537.75 123.22 L538.66 123.23 L539.58 123.23 L540.49 123.23 L541.40 123.24 L542.32 123.24 L543.23 123.24 L544.14 123.25 L545.06 123.25 L545.97 123.25 L546.88 123.26 L547.80 123.26 L548.71 123.26 L549.62 123.26 L550.53 123.26 L551.45 123.27 L552.36 123.27 L553.27 123.27 L554.19 123.27 L555.10 123.27 L556.01 123.28 L556.93 123.28 L557.84 123.28 L558.75 123.28 L559.67 123.28 L560.58 123.28 L561.49 123.29 L562.41 123.29 L563.32 123.29 L564.23 123.29 L565.15 123.29 L566.06 123.29 L566.97 123.29 L567.89 123.29 L568.80 123.29 L569.71 123.30 L570.63 123.30 L571.54 123.30 L572.45 123.30 L573.36 123.30 L574.28 123.30 L575.19 123.30 L576.10 123.30 L577.02 123.30 L577.93 123.30 L578.84 123.30 L579.76 123.30 L580.67 123.31 L581.58 123.31 L582.50 123.31 L583.41 123.31 L584.32 123.31 L585.24 123.31 L586.15 123.31 L587.06 123.31 L587.98 123.31 L588.89 123.31 L589.80 123.31 L590.72 123.31 L591.63 123.31 L592.54 123.31 L593.46 123.31 L594.37 123.31 L595.28 123.31 L596.19 123.31 L597.11 123.31 L598.02 123.32 L598.93 123.32 L599.85 123.32 L600.76 123.32 L601.67 123.32 L602.59 123.32 L603.50 123.32 L604.41 123.32 L605.33 123.32 L606.24 123.32 L607.15 123.32 L608.07 123.32 L608.98 123.32 L609.89 123.32 L610.81 123.32 L611.72 123.32 L612.63 123.32 L613.55 123.32 L614.46 123.32 L615.37 123.32 L616.29 123.32 L617.20 123.32 L618.11 123.32 L619.02 123.32 L619.94 123.32 L620.85 123.32 L621.76 123.32 L622.68 123.32 L623.59 123.32 L624.50 123.32 L625.42 123.32 L626.33 123.32 L627.24 123.32 L628.16 123.32 L629.07 123.32 L629.98 123.33 L630.90 123.33 L631.81 123.33 L632.72 123.33 L633.64 123.33 L634.55 123.33 L635.46 123.33 L636.38 123.33 L637.29 123.33 L638.20 123.33 L639.12 123.33 L640.03 123.33 L640.94 123.33 L641.85 123.33 L642.77 123.33 L643.68 123.33 L644.59 123.33 L645.51 123.33 L646.42 123.33 L647.33 123.33 L648.25 123.33 L649.16 123.33 L650.07 123.33 L650.99 123.33 L651.90 123.33 L652.81 123.33 L653.73 123.33 L654.64 123.33 L655.55 123.33 L656.47 123.33 L657.38 123.33 L658.29 123.33 L659.21 123.33 L660.12 123.33 L661.03 123.33 L661.95 123.33 L662.86 123.33 L663.77 123.33 L664.68 123.33 L665.60 123.33" stroke="#2060e0"/>
<path d="M449.90 123.34 L451.42 129.50 L453.70 120.26 L455.23 126.42 L456.75 141.82 L458.27 144.13 L461.31 143.98 L461.62 142.76 L462.53 142.78 L463.45 142.80 L464.36 142.82 L465.27 142.84 L466.19 142.86 L467.10 142.87 L468.01 142.89 L468.93 142.90 L469.84 142.92 L470.75 142.93 L471.66 142.94 L472.58 142.95 L473.49 142.96 L474.40 142.96 L475.32 142.97 L476.23 142.96 L477.14 142.96 L478.06 142.94 L478.97 142.92 L479.88 142.88 L480.80 142.83 L481.71 142.76 L482.62 142.67 L483.54 142.55 L484.45 142.39 L485.36 142.18 L486.28 141.92 L487.19 141.59 L488.10 141.19 L489.02 140.70 L489.93 140.12 L490.84 139.43 L491.75 138.63 L492.67 137.70 L493.58 136.64 L494.49 135.43 L494.80 134.99 L495.10 134.54 L495.41 134.06 L495.71 133.57 L496.02 133.05 L496.32 132.50 L496.63 131.93 L496.93 131.33 L497.23 130.69 L497.54 130.01 L497.84 129.29 L498.15 128.51 L498.45 127.67 L498.76 126.76 L499.06 125.76 L499.37 124.65 L499.67 123.41 L499.97 122.00 L500.28 120.39 L500.58 118.51 L500.89 116.30 L501.19 113.65 L501.50 110.41 L501.80 106.38 L502.10 101.25 L502.17 100.06 L502.23 98.80 L502.29 97.46 L502.35 96.05 L502.41 94.56 L502.47 92.97 L502.53 91.29 L502.59 89.50 L502.65 87.59 L502.71 85.55 L502.77 83.38 L502.84 81.05 L502.90 78.56 L502.96 75.89 L503.02 73.01 L503.08 69.91 L503.14 66.56 L503.20 62.94 L503.26 59.01 L503.32 54.74 L503.38 50.09 L503.44 45.02 L503.50 39.46 L503.57 33.35 L503.63 26.63 L503.63 26.63 L503.69 32.68 L503.75 38.17 L503.81 43.17 L503.87 47.74 L503.93 51.92 L503.99 55.76 L504.05 59.29 L504.11 62.54 L504.17 65.55 L504.24 68.33 L504.30 70.92 L504.36 73.32 L504.42 75.55 L504.48 77.64 L504.54 79.59 L504.60 81.41 L504.66 83.12 L504.72 84.72 L504.78 86.22 L504.84 87.64 L504.91 88.97 L504.97 90.23 L505.03 91.41 L505.09 92.53 L505.15 93.59 L505.45 98.12 L505.76 101.65 L506.06 104.45 L506.37 106.70 L506.67 108.55 L506.98 110.08 L507.28 111.36 L507.58 112.45 L507.89 113.37 L508.19 114.17 L508.50 114.86 L508.80 115.47 L509.11 116.00 L509.41 116.46 L509.71 116.88 L510.02 117.25 L510.32 117.58 L510.63 117.87 L510.93 118.14 L511.24 118.38 L511.54 118.60 L511.85 118.80 L512.15 118.99 L512.45 119.15 L512.76 119.31 L513.67 119.70 L514.58 120.01 L515.50 120.26 L516.41 120.46 L517.32 120.63 L518.24 120.78 L519.15 120.90 L520.06 121.00 L520.98 121.09 L521.89 121.17 L522.80 121.23 L523.72 121.29 L524.63 121.34 L525.54 121.39 L526.46 121.43 L527.37 121.47 L528.28 121.50 L529.20 121.53 L530.11 121.56 L531.02 121.58 L531.94 121.60 L532.85 121.62 L533.76 121.64 L534.68 121.66 L535.59 121.68 L536.50 121.69 L537.41 121.70 L538.33 121.72 L539.24 121.73 L540.15 121.74 L541.07 121.75 L541.98 121.76 L542.89 121.77 L543.81 121.77 L544.72 121.78 L545.63 121.79 L546.55 121.80 L547.46 121.80 L548.37 121.81 L549.29 121.81 L550.20 121.82 L551.11 121.82 L552.03 121.83 L552.94 121.83 L553.85 121.84 L554.77 121.84 L555.68 121.84 L556.59 121.85 L557.51 121.85 L558.42 121.85 L559.33 121.86 L560.24 121.86 L561.16 121.86 L562.07 121.87 L562.98 121.87 L563.90 121.87 L564.81 121.87 L565.72 121.88 L566.64 121.88 L567.55 121.88 L568.46 121.88 L569.38 121.88 L570.29 121.89 L571.20 121.89 L572.12 121.89 L573.03 121.89 L573.94 121.89 L574.86 121.89 L575.77 121.90 L576.68 121.90 L577.60 121.90 L578.51 121.90 L579.42 121.90 L580.34 121.90 L581.25 121.90 L582.16 121.90 L583.07 121.91 L583.99 121.91 L584.90 121.91 L585.81 121.91 L586.73 121.91 L587.64 121.91 L588.55 121.91 L589.47 121.91 L590.38 121.91 L591.29 121.91 L592.21 121.92 L593.12 121.92 L594.03 121.92 L594.95 121.92 L595.86 121.92 L596.77 121.92 L597.69 121.92 L598.60 121.92 L599.51 121.92 L600.43 121.92 L601.34 121.92 L602.25 121.92 L603.17 121.92 L604.08 121.92 L604.99 121.92 L605.90 121.92 L606.82 121.93 L607.73 121.93 L608.64 121.93 L609.56 121.93 L610.47 121.93 L611.38 121.93 L612.30 121.93 L613.21 121.93 L614.12 121.93 L615.04 121.93 L615.95 121.93 L616.86 121.93 L617.78 121.93 L618.69 121.93 L619.60 121.93 L620.52 121.93 L621.43 121.93 L622.34 121.93 L623.26 121.93 L624.17 121.93 L625.08 121.93 L626.00 121.93 L626.91 121.93 L627.82 121.93 L628.74 121.93 L629.65 121.93 L630.56 121.93 L631.47 121.94 L632.39 121.94 L633.30 121.94 L634.21 121.94 L635.13 121.94 L636.04 121.94 L636.95 121.94 L637.87 121.94 L638.78 121.94 L639.69 121.94 L640.61 121.94 L641.52 121.94 L642.43 121.94 L643.35 121.94 L644.26 121.94 L645.17 121.94 L646.09 121.94 L647.00 121.94 L647.91 121.94 L648.83 121.94 L649.74 121.94 L650.65 121.94 L651.57 121.94 L652.48 121.94 L653.39 121.94 L654.30 121.94 L655.22 121.94 L656.13 121.94 L657.04 121.94 L657.96 121.94 L658.87 121.94 L659.78 121.94 L660.70 121.94 L661.61 121.94 L662.52 121.94 L663.44 121.94 L664.35 121.94 L665.26 121.94" stroke="#30a050"/>
<path d="M449.90 112.56 L451.42 122.72 L453.55 112.56 L454.77 117.18 L456.29 138.74 L457.51 144.13 L461.31 142.59 L461.62 141.18 L462.53 140.87 L463.45 140.66 L464.36 140.95 L465.27 141.37 L466.19 141.43 L467.10 141.26 L468.01 141.24 L468.93 141.27 L469.84 140.95 L470.75 140.41 L471.66 140.28 L472.58 140.77 L473.49 141.34 L474.40 141.49 L475.32 141.44 L476.23 141.59 L477.14 141.79 L478.06 141.67 L478.97 141.39 L479.88 141.48 L480.80 141.91 L481.71 142.07 L482.62 141.67 L483.54 141.18 L484.45 141.08 L485.36 141.20 L486.28 141.19 L487.19 141.22 L488.10 141.66 L489.02 142.28 L489.93 142.46 L490.84 142.09 L491.75 141.76 L492.67 141.83 L493.58 142.00 L494.49 141.86 L495.41 141.63 L496.32 141.64 L497.23 141.68 L498.15 141.30 L499.06 140.65 L499.97 140.37 L500.89 140.65 L501.80 140.94 L502.71 140.81 L503.63 140.47 L504.54 140.22 L505.45 139.82 L506.37 138.92 L507.28 137.80 L508.19 137.02 L509.11 136.58 L510.02 135.85 L510.93 134.56 L511.85 133.13 L512.76 131.92 L513.67 130.69 L513.98 130.20 L514.28 129.66 L514.59 129.09 L514.89 128.50 L515.19 127.90 L515.50 127.32 L515.80 126.75 L516.11 126.20 L516.41 125.64 L516.72 125.04 L517.02 124.37 L517.32 123.59 L517.63 122.64 L517.93 120.60 L518.24 119.26 L518.54 117.73 L518.85 115.97 L519.15 113.93 L519.46 111.53 L519.76 108.67 L520.06 105.21 L520.37 100.96 L520.67 95.63 L520.98 88.81 L521.04 87.22 L521.10 85.53 L521.16 83.75 L521.22 81.87 L521.28 79.87 L521.34 77.75 L521.40 75.50 L521.46 73.10 L521.53 70.55 L521.59 67.82 L521.65 64.91 L521.71 61.79 L521.77 58.45 L521.83 54.86 L521.89 51.00 L521.95 46.84 L522.01 42.34 L522.07 37.48 L522.13 32.21 L522.19 26.47 L522.19 26.47 L522.26 32.39 L522.32 37.76 L522.38 42.64 L522.44 47.11 L522.50 51.19 L522.56 54.94 L522.62 58.39 L522.68 61.57 L522.74 64.51 L522.80 67.24 L522.86 69.76 L522.93 72.11 L522.99 74.29 L523.05 76.33 L523.11 78.24 L523.17 80.02 L523.23 81.68 L523.29 83.25 L523.35 84.72 L523.41 86.10 L523.47 87.41 L523.53 88.63 L523.60 89.79 L523.66 90.89 L523.72 91.92 L523.78 92.91 L524.08 97.11 L524.39 100.39 L524.69 103.01 L525.00 105.13 L525.30 106.86 L525.60 108.31 L525.91 109.52 L526.21 110.55 L526.52 111.42 L526.82 112.18 L527.13 112.84 L527.43 113.41 L527.74 113.92 L528.04 114.36 L528.34 114.76 L528.65 115.11 L528.95 115.43 L529.26 115.71 L529.56 115.97 L529.87 116.20 L530.17 116.41 L530.47 116.60 L530.78 116.78 L531.08 116.94 L531.39 117.08 L532.30 117.46 L533.21 117.76 L534.13 118.00 L535.04 118.20 L535.95 118.36 L536.87 118.50 L537.78 118.62 L538.69 118.72 L539.61 118.80 L540.52 118.88 L541.43 118.94 L542.35 119.00 L543.26 119.05 L544.17 119.10 L545.09 119.14 L546.00 119.17 L546.91 119.20 L547.83 119.23 L548.74 119.26 L549.65 119.28 L550.57 119.30 L551.48 119.32 L552.39 119.34 L553.30 119.36 L554.22 119.37 L555.13 119.39 L556.04 119.40 L556.96 119.41 L557.87 119.42 L558.78 119.43 L559.70 119.44 L560.61 119.45 L561.52 119.46 L562.44 119.47 L563.35 119.48 L564.26 119.48 L565.18 119.49 L566.09 119.50 L567.00 119.50 L567.92 119.51 L568.83 119.51 L569.74 119.52 L570.66 119.52 L571.57 119.53 L572.48 119.53 L573.40 119.53 L574.31 119.54 L575.22 119.54 L576.13 119.54 L577.05 119.55 L577.96 119.55 L578.87 119.55 L579.79 119.56 L580.70 119.56 L581.61 119.56 L582.53 119.56 L583.44 119.57 L584.35 119.57 L585.27 119.57 L586.18 119.57 L587.09 119.57 L588.01 119.58 L588.92 119.58 L589.83 119.58 L590.75 119.58 L591.66 119.58 L592.57 119.58 L593.49 119.59 L594.40 119.59 L595.31 119.59 L596.23 119.59 L597.14 119.59 L598.05 119.59 L598.96 119.59 L599.88 119.59 L600.79 119.60 L601.70 119.60 L602.62 119.60 L603.53 119.60 L604.44 119.60 L605.36 119.60 L606.27 119.60 L607.18 119.60 L608.10 119.60 L609.01 119.60 L609.92 119.61 L610.84 119.61 L611.75 119.61 L612.66 119.61 L613.58 119.61 L614.49 119.61 L615.40 119.61 L616.32 119.61 L617.23 119.61 L618.14 119.61 L619.06 119.61 L619.97 119.61 L620.88 119.61 L621.79 119.61 L622.71 119.61 L623.62 119.61 L624.53 119.62 L625.45 119.62 L626.36 119.62 L627.27 119.62 L628.19 119.62 L629.10 119.62 L630.01 119.62 L630.93 119.62 L631.84 119.62 L632.75 119.62 L633.67 119.62 L634.58 119.62 L635.49 119.62 L636.41 119.62 L637.32 119.62 L638.23 119.62 L639.15 119.62 L640.06 119.62 L640.97 119.62 L641.89 119.62 L642.80 119.62 L643.71 119.62 L644.62 119.62 L645.54 119.62 L646.45 119.62 L647.36 119.62 L648.28 119.63 L649.19 119.63 L650.10 119.63 L651.02 119.63 L651.93 119.63 L652.84 119.63 L653.76 119.63 L654.67 119.63 L655.58 119.63 L656.50 119.63 L657.41 119.63 L658.32 119.63 L659.24 119.63 L660.15 119.63 L661.06 119.63 L661.98 119.63 L662.89 119.63 L663.80 119.63 L664.72 119.63 L665.63 119.63" stroke="#a060e8"/>
<path d="M449.90 96.39 L451.73 111.02 L453.55 94.08 L454.77 101.78 L456.29 134.12 L457.51 143.36 L459.03 143.36 L462.08 140.28 L462.38 138.23 L463.29 138.73 L464.21 138.85 L465.12 138.66 L466.03 138.59 L466.95 138.61 L467.86 138.37 L468.77 137.93 L469.69 137.90 L470.60 138.48 L471.51 139.10 L472.43 139.27 L473.34 139.19 L474.25 139.32 L475.17 139.56 L476.08 139.55 L476.99 139.37 L477.90 139.50 L478.82 139.95 L479.73 140.12 L480.64 139.72 L481.56 139.24 L482.47 139.19 L483.38 139.44 L484.30 139.58 L485.21 139.70 L486.12 140.16 L487.04 140.78 L487.95 140.97 L488.86 140.64 L489.78 140.36 L490.69 140.55 L491.60 140.87 L492.52 140.87 L493.43 140.71 L494.34 140.77 L495.26 140.91 L496.17 140.71 L497.08 140.30 L498.00 140.30 L498.91 140.90 L499.82 141.54 L500.73 141.76 L501.65 141.75 L502.56 141.88 L503.47 142.00 L504.39 141.76 L505.30 141.38 L506.21 141.40 L507.13 141.81 L508.04 142.01 L508.95 141.71 L509.87 141.34 L510.78 141.35 L511.69 141.53 L512.61 141.55 L513.52 141.57 L514.43 141.96 L515.35 142.49 L516.26 142.52 L517.17 141.95 L518.09 141.37 L519.00 141.18 L519.91 141.07 L520.83 140.69 L521.74 140.28 L522.65 140.14 L523.56 140.05 L524.48 139.52 L525.39 138.68 L526.30 138.15 L527.22 138.14 L528.13 138.09 L529.04 137.61 L529.96 136.92 L530.87 136.32 L531.78 135.58 L532.70 134.35 L533.61 132.95 L534.52 131.96 L535.44 131.37 L535.74 131.14 L536.05 130.87 L536.35 130.52 L536.65 130.10 L536.96 129.62 L537.26 129.09 L537.57 128.53 L537.87 127.95 L538.18 127.37 L538.48 126.79 L538.78 126.19 L539.09 125.55 L539.39 124.83 L539.70 124.01 L540.00 123.08 L540.31 121.94 L540.61 120.62 L540.92 119.08 L541.22 117.26 L541.52 115.10 L541.83 112.48 L542.13 109.25 L542.44 105.22 L542.74 100.06 L543.05 93.29 L543.11 91.69 L543.17 89.98 L543.23 88.17 L543.29 86.23 L543.35 84.17 L543.41 81.96 L543.47 79.60 L543.53 77.08 L543.59 74.36 L543.66 71.44 L543.72 68.29 L543.78 64.89 L543.84 61.21 L543.90 57.22 L543.96 52.89 L544.02 48.16 L544.08 43.00 L544.14 37.36 L544.20 31.15 L544.26 24.32 L544.26 24.32 L544.32 30.17 L544.39 35.49 L544.45 40.33 L544.51 44.75 L544.57 48.79 L544.63 52.50 L544.69 55.92 L544.75 59.07 L544.81 61.98 L544.87 64.68 L544.93 67.18 L544.99 69.50 L545.06 71.66 L545.12 73.68 L545.18 75.57 L545.24 77.33 L545.30 78.98 L545.36 80.53 L545.42 81.99 L545.48 83.36 L545.54 84.64 L545.60 85.86 L545.66 87.01 L545.73 88.09 L545.79 89.12 L545.85 90.09 L546.15 94.25 L546.46 97.50 L546.76 100.09 L547.06 102.19 L547.37 103.91 L547.67 105.34 L547.98 106.54 L548.28 107.56 L548.59 108.43 L548.89 109.18 L549.20 109.83 L549.50 110.39 L549.80 110.89 L550.11 111.33 L550.41 111.73 L550.72 112.08 L551.02 112.39 L551.33 112.67 L551.63 112.92 L551.93 113.15 L552.24 113.36 L552.54 113.55 L552.85 113.72 L553.15 113.88 L553.46 114.03 L554.37 114.40 L555.28 114.70 L556.20 114.94 L557.11 115.13 L558.02 115.30 L558.94 115.43 L559.85 115.55 L560.76 115.65 L561.68 115.73 L562.59 115.81 L563.50 115.87 L564.42 115.93 L565.33 115.98 L566.24 116.02 L567.15 116.06 L568.07 116.10 L568.98 116.13 L569.89 116.16 L570.81 116.18 L571.72 116.21 L572.63 116.23 L573.55 116.25 L574.46 116.26 L575.37 116.28 L576.29 116.30 L577.20 116.31 L578.11 116.32 L579.03 116.33 L579.94 116.35 L580.85 116.36 L581.77 116.37 L582.68 116.37 L583.59 116.38 L584.51 116.39 L585.42 116.40 L586.33 116.40 L587.25 116.41 L588.16 116.42 L589.07 116.42 L589.98 116.43 L590.90 116.43 L591.81 116.44 L592.72 116.44 L593.64 116.45 L594.55 116.45 L595.46 116.45 L596.38 116.46 L597.29 116.46 L598.20 116.47 L599.12 116.47 L600.03 116.47 L600.94 116.47 L601.86 116.48 L602.77 116.48 L603.68 116.48 L604.60 116.48 L605.51 116.49 L606.42 116.49 L607.34 116.49 L608.25 116.49 L609.16 116.49 L610.08 116.50 L610.99 116.50 L611.90 116.50 L612.81 116.50 L613.73 116.50 L614.64 116.50 L615.55 116.51 L616.47 116.51 L617.38 116.51 L618.29 116.51 L619.21 116.51 L620.12 116.51 L621.03 116.51 L621.95 116.52 L622.86 116.52 L623.77 116.52 L624.69 116.52 L625.60 116.52 L626.51 116.52 L627.43 116.52 L628.34 116.52 L629.25 116.52 L630.17 116.52 L631.08 116.52 L631.99 116.53 L632.91 116.53 L633.82 116.53 L634.73 116.53 L635.64 116.53 L636.56 116.53 L637.47 116.53 L638.38 116.53 L639.30 116.53 L640.21 116.53 L641.12 116.53 L642.04 116.53 L642.95 116.53 L643.86 116.53 L644.78 116.53 L645.69 116.54 L646.60 116.54 L647.52 116.54 L648.43 116.54 L649.34 116.54 L650.26 116.54 L651.17 116.54 L652.08 116.54 L653.00 116.54 L653.91 116.54 L654.82 116.54 L655.74 116.54 L656.65 116.54 L657.56 116.54 L658.47 116.54 L659.39 116.54 L660.30 116.54 L661.21 116.54 L662.13 116.54 L663.04 116.54 L663.95 116.54 L664.87 116.54 L665.78 116.54" stroke="#d09010"/>
<path d="M449.90 91.00 L450.97 98.70 L453.86 87.00 L454.92 98.70 L456.29 132.58 L457.51 142.59 L459.03 143.36 L461.31 139.05 L461.62 136.79 L462.53 136.72 L463.45 136.44 L464.36 136.35 L465.27 136.30 L466.19 136.00 L467.10 135.70 L468.01 135.92 L468.93 136.60 L469.84 137.08 L470.75 137.05 L471.66 136.92 L472.58 137.09 L473.49 137.31 L474.40 137.25 L475.32 137.15 L476.23 137.39 L477.14 137.76 L478.06 137.69 L478.97 137.13 L479.88 136.74 L480.80 136.87 L481.71 137.20 L482.62 137.36 L483.54 137.55 L484.45 138.03 L485.36 138.50 L486.28 138.45 L487.19 138.05 L488.10 137.92 L489.02 138.25 L489.93 138.53 L490.84 138.43 L491.75 138.24 L492.67 138.28 L493.58 138.32 L494.49 138.04 L495.41 137.75 L496.32 138.01 L497.23 138.74 L498.15 139.27 L499.06 139.30 L499.97 139.22 L500.89 139.34 L501.80 139.39 L502.71 139.12 L503.63 138.87 L504.54 139.08 L505.45 139.50 L506.37 139.52 L507.28 139.11 L508.19 138.85 L509.11 139.04 L510.02 139.33 L510.93 139.46 L511.85 139.67 L512.76 140.22 L513.67 140.71 L514.59 140.61 L515.50 140.09 L516.41 139.83 L517.32 140.00 L518.24 140.15 L519.15 140.04 L520.06 139.98 L520.98 140.22 L521.89 140.39 L522.80 140.17 L523.72 139.88 L524.63 140.12 L525.54 140.79 L526.46 141.26 L527.37 141.26 L528.28 141.19 L529.20 141.24 L530.11 141.13 L531.02 140.65 L531.94 140.26 L532.85 140.41 L533.76 140.85 L534.68 140.95 L535.59 140.64 L536.50 140.46 L537.41 140.60 L538.33 140.70 L539.24 140.57 L540.15 140.56 L541.07 140.91 L541.98 141.16 L542.89 140.78 L543.81 139.96 L544.72 139.34 L545.63 139.09 L546.55 138.80 L547.46 138.32 L548.37 138.01 L549.29 137.99 L550.20 137.83 L551.11 137.14 L552.03 136.28 L552.94 135.83 L553.85 135.73 L554.77 135.38 L555.68 134.62 L556.59 133.82 L557.51 133.12 L558.42 132.15 L559.33 130.75 L560.24 129.44 L561.16 128.70 L562.07 128.23 L562.98 127.39 L563.29 126.98 L563.59 126.54 L563.90 126.07 L564.20 125.59 L564.51 125.12 L564.81 124.66 L565.12 124.19 L565.42 123.69 L565.72 123.15 L566.03 122.52 L566.33 121.80 L566.64 120.96 L566.94 119.98 L567.25 118.77 L567.55 117.60 L567.85 116.27 L568.16 114.72 L568.46 112.92 L568.77 110.79 L569.07 108.23 L569.38 105.13 L569.68 101.30 L569.99 96.50 L570.29 90.33 L570.35 88.89 L570.41 87.37 L570.47 85.76 L570.53 84.05 L570.59 82.24 L570.66 80.32 L570.72 78.28 L570.78 76.10 L570.84 73.79 L570.90 71.32 L570.96 68.67 L571.02 65.85 L571.08 62.81 L571.14 59.56 L571.20 56.05 L571.26 52.28 L571.33 48.20 L571.39 43.78 L571.45 39.00 L571.51 33.79 L571.57 28.12 L571.63 21.93 L571.66 18.62 L571.69 21.64 L571.75 27.25 L571.81 32.36 L571.87 37.01 L571.93 41.26 L571.99 45.17 L572.06 48.75 L572.12 52.05 L572.18 55.10 L572.24 57.92 L572.30 60.53 L572.36 62.95 L572.42 65.21 L572.48 67.31 L572.54 69.28 L572.60 71.11 L572.66 72.83 L572.73 74.44 L572.79 75.95 L572.85 77.37 L572.91 78.71 L572.97 79.97 L573.03 81.16 L573.09 82.28 L573.15 83.34 L573.21 84.35 L573.52 88.65 L573.82 92.00 L574.13 94.67 L574.43 96.82 L574.73 98.58 L575.04 100.05 L575.34 101.28 L575.65 102.32 L575.95 103.21 L576.26 103.97 L576.56 104.64 L576.87 105.22 L577.17 105.73 L577.47 106.18 L577.78 106.57 L578.08 106.93 L578.39 107.25 L578.69 107.53 L579.00 107.79 L579.30 108.03 L579.60 108.24 L579.91 108.43 L580.21 108.61 L580.52 108.77 L580.82 108.92 L581.74 109.30 L582.65 109.60 L583.56 109.84 L584.48 110.04 L585.39 110.20 L586.30 110.34 L587.21 110.46 L588.13 110.56 L589.04 110.64 L589.95 110.72 L590.87 110.78 L591.78 110.84 L592.69 110.89 L593.61 110.93 L594.52 110.97 L595.43 111.01 L596.35 111.04 L597.26 111.07 L598.17 111.10 L599.09 111.12 L600.00 111.14 L600.91 111.16 L601.83 111.18 L602.74 111.20 L603.65 111.21 L604.57 111.23 L605.48 111.24 L606.39 111.25 L607.31 111.26 L608.22 111.27 L609.13 111.28 L610.04 111.29 L610.96 111.30 L611.87 111.31 L612.78 111.31 L613.70 111.32 L614.61 111.33 L615.52 111.33 L616.44 111.34 L617.35 111.34 L618.26 111.35 L619.18 111.35 L620.09 111.36 L621.00 111.36 L621.92 111.37 L622.83 111.37 L623.74 111.38 L624.66 111.38 L625.57 111.38 L626.48 111.39 L627.40 111.39 L628.31 111.39 L629.22 111.39 L630.14 111.40 L631.05 111.40 L631.96 111.40 L632.87 111.40 L633.79 111.41 L634.70 111.41 L635.61 111.41 L636.53 111.41 L637.44 111.41 L638.35 111.42 L639.27 111.42 L640.18 111.42 L641.09 111.42 L642.01 111.42 L642.92 111.42 L643.83 111.43 L644.75 111.43 L645.66 111.43 L646.57 111.43 L647.49 111.43 L648.40 111.43 L649.31 111.43 L650.23 111.43 L651.14 111.44 L652.05 111.44 L652.97 111.44 L653.88 111.44 L654.79 111.44 L655.70 111.44 L656.62 111.44 L657.53 111.44 L658.44 111.44 L659.36 111.44 L660.27 111.44 L661.18 111.44 L662.10 111.45 L663.01 111.45 L663.92 111.45 L664.84 111.45 L665.75 111.45" stroke="#30c8c8"/>
<path d="M449.90 67.13 L449.90 91.00 L452.49 87.61 L453.86 89.46 L454.92 106.40 L456.29 132.58 L457.51 141.82 L458.73 143.67 L460.55 139.51 L462.84 136.43 L463.14 134.66 L464.05 134.49 L464.97 134.24 L465.88 134.41 L466.79 135.06 L467.71 135.61 L468.62 135.62 L469.53 135.41 L470.45 135.51 L471.36 135.81 L472.27 135.89 L473.19 135.80 L474.10 135.95 L475.01 136.29 L475.93 136.29 L476.84 135.77 L477.75 135.31 L478.67 135.42 L479.58 135.85 L480.49 136.12 L481.41 136.28 L482.32 136.65 L483.23 137.11 L484.14 137.15 L485.06 136.78 L485.97 136.60 L486.88 136.92 L487.80 137.31 L488.71 137.28 L489.62 137.01 L490.54 136.95 L491.45 137.02 L492.36 136.85 L493.28 136.60 L494.19 136.81 L495.10 137.54 L496.02 138.16 L496.93 138.22 L497.84 138.05 L498.76 138.09 L499.67 138.22 L500.58 138.07 L501.50 137.84 L502.41 137.98 L503.32 138.39 L504.24 138.49 L505.15 138.09 L506.06 137.75 L506.98 137.91 L507.89 138.32 L508.80 138.56 L509.71 138.75 L510.63 139.21 L511.54 139.69 L512.45 139.67 L513.37 139.17 L514.28 138.85 L515.19 139.03 L516.11 139.30 L517.02 139.27 L517.93 139.15 L518.85 139.29 L519.76 139.50 L520.67 139.38 L521.59 139.13 L522.50 139.33 L523.41 140.03 L524.33 140.61 L525.24 140.66 L526.15 140.51 L527.07 140.51 L527.98 140.50 L528.89 140.18 L529.80 139.83 L530.72 139.98 L531.63 140.49 L532.54 140.73 L533.46 140.51 L534.37 140.32 L535.28 140.54 L536.20 140.88 L537.11 141.00 L538.02 141.13 L538.94 141.57 L539.85 142.05 L540.76 141.97 L541.68 141.40 L542.59 141.00 L543.50 141.08 L544.42 141.27 L545.33 141.26 L546.24 141.29 L547.16 141.64 L548.07 142.00 L548.98 141.92 L549.90 141.63 L550.81 141.73 L551.72 142.29 L552.63 142.73 L553.55 142.70 L554.46 142.53 L555.37 142.51 L556.29 142.40 L557.20 141.94 L558.11 141.49 L559.03 141.62 L559.94 142.16 L560.85 142.46 L561.77 142.32 L562.68 142.17 L563.59 142.31 L564.51 142.40 L565.42 142.21 L566.33 142.03 L567.25 142.24 L568.16 142.49 L569.07 142.19 L569.99 141.40 L570.90 140.75 L571.81 140.54 L572.73 140.39 L573.64 140.07 L574.55 139.89 L575.46 140.04 L576.38 140.12 L577.29 139.63 L578.20 138.81 L579.12 138.30 L580.03 138.17 L580.94 137.88 L581.86 137.21 L582.77 136.47 L583.68 135.86 L584.60 135.09 L585.51 133.91 L586.42 132.75 L587.34 132.16 L588.25 132.00 L589.16 131.60 L590.08 130.79 L590.99 129.94 L591.90 129.24 L592.82 128.31 L593.73 126.98 L594.64 125.64 L594.95 125.27 L595.25 124.94 L595.56 124.63 L595.86 124.32 L596.16 123.98 L596.47 123.56 L596.77 123.06 L597.08 122.45 L597.38 121.73 L597.69 120.91 L597.99 120.00 L598.29 119.02 L598.60 117.98 L598.90 116.88 L599.21 116.27 L599.51 115.02 L599.82 113.61 L600.12 111.98 L600.43 110.10 L600.73 107.88 L601.03 105.26 L601.34 102.12 L601.64 98.29 L601.95 93.57 L602.25 87.63 L602.31 86.26 L602.37 84.81 L602.43 83.29 L602.50 81.70 L602.56 80.01 L602.62 78.23 L602.68 76.34 L602.74 74.35 L602.80 72.24 L602.86 70.01 L602.92 67.63 L602.98 65.11 L603.04 62.42 L603.10 59.55 L603.17 56.50 L603.23 53.23 L603.29 49.74 L603.35 45.99 L603.41 41.96 L603.47 37.63 L603.53 32.96 L603.59 27.92 L603.62 25.24 L603.65 27.82 L603.71 32.62 L603.77 36.97 L603.84 40.95 L603.90 44.58 L603.96 47.91 L604.02 50.97 L604.08 53.79 L604.14 56.40 L604.20 58.80 L604.26 61.03 L604.32 63.11 L604.38 65.03 L604.44 66.83 L604.50 68.51 L604.57 70.07 L604.63 71.54 L604.69 72.92 L604.75 74.21 L604.81 75.42 L604.87 76.56 L604.93 77.64 L604.99 78.65 L605.05 79.61 L605.11 80.52 L605.17 81.38 L605.48 85.05 L605.78 87.91 L606.09 90.19 L606.39 92.03 L606.70 93.54 L607.00 94.79 L607.31 95.84 L607.61 96.73 L607.91 97.48 L608.22 98.14 L608.52 98.71 L608.83 99.20 L609.13 99.64 L609.44 100.02 L609.74 100.36 L610.04 100.66 L610.35 100.94 L610.65 101.18 L610.96 101.40 L611.26 101.60 L611.57 101.78 L611.87 101.95 L612.18 102.10 L612.48 102.23 L612.78 102.36 L613.70 102.68 L614.61 102.94 L615.52 103.15 L616.44 103.32 L617.35 103.46 L618.26 103.58 L619.18 103.68 L620.09 103.76 L621.00 103.83 L621.92 103.90 L622.83 103.95 L623.74 104.00 L624.66 104.05 L625.57 104.08 L626.48 104.12 L627.40 104.15 L628.31 104.18 L629.22 104.20 L630.14 104.22 L631.05 104.24 L631.96 104.26 L632.87 104.28 L633.79 104.29 L634.70 104.31 L635.61 104.32 L636.53 104.33 L637.44 104.34 L638.35 104.35 L639.27 104.36 L640.18 104.37 L641.09 104.38 L642.01 104.39 L642.92 104.40 L643.83 104.40 L644.75 104.41 L645.66 104.41 L646.57 104.42 L647.49 104.43 L648.40 104.43 L649.31 104.43 L650.23 104.44 L651.14 104.44 L652.05 104.45 L652.97 104.45 L653.88 104.45 L654.79 104.46 L655.70 104.46 L656.62 104.46 L657.53 104.47 L658.44 104.47 L659.36 104.47 L660.27 104.47 L661.18 104.48 L662.10 104.48 L663.01 104.48 L663.92 104.48 L664.84 104.49 L665.75 104.49" stroke="#603030"/>
</g>
<path d="M449.90 144.90 V6.00 H663.00 V144.90" fill="none" stroke="#555" stroke-width="1.6"/>
<line x1="449.40" y1="144.90" x2="663.50" y2="144.90" stroke="#333" stroke-width="1.3"/>
<line x1="449.90" y1="144.90" x2="449.90" y2="141.90" stroke="#333" stroke-width="0.9"/>
<text x="449.90" y="155.6" font-size="8" font-weight="bold" text-anchor="middle" stroke="#111" stroke-width="0.2">0</text>
<line x1="480.34" y1="144.90" x2="480.34" y2="141.90" stroke="#333" stroke-width="0.9"/>
<text x="480.34" y="155.6" font-size="8" font-weight="bold" text-anchor="middle" stroke="#111" stroke-width="0.2">2</text>
<line x1="510.78" y1="144.90" x2="510.78" y2="141.90" stroke="#333" stroke-width="0.9"/>
<text x="510.78" y="155.6" font-size="8" font-weight="bold" text-anchor="middle" stroke="#111" stroke-width="0.2">4</text>
<line x1="541.22" y1="144.90" x2="541.22" y2="141.90" stroke="#333" stroke-width="0.9"/>
<text x="541.22" y="155.6" font-size="8" font-weight="bold" text-anchor="middle" stroke="#111" stroke-width="0.2">6</text>
<line x1="571.66" y1="144.90" x2="571.66" y2="141.90" stroke="#333" stroke-width="0.9"/>
<text x="571.66" y="155.6" font-size="8" font-weight="bold" text-anchor="middle" stroke="#111" stroke-width="0.2">8</text>
<line x1="602.10" y1="144.90" x2="602.10" y2="141.90" stroke="#333" stroke-width="0.9"/>
<text x="602.10" y="155.6" font-size="8" font-weight="bold" text-anchor="middle" stroke="#111" stroke-width="0.2">10</text>
<line x1="632.54" y1="144.90" x2="632.54" y2="141.90" stroke="#333" stroke-width="0.9"/>
<text x="632.54" y="155.6" font-size="8" font-weight="bold" text-anchor="middle" stroke="#111" stroke-width="0.2">12</text>
<line x1="662.98" y1="144.90" x2="662.98" y2="141.90" stroke="#333" stroke-width="0.9"/>
<text x="662.98" y="155.6" font-size="8" font-weight="bold" text-anchor="middle" stroke="#111" stroke-width="0.2">14</text>
<line x1="449.90" y1="144.90" x2="452.90" y2="144.90" stroke="#333" stroke-width="0.9"/>
<text x="445.6" y="147.60" font-size="8" font-weight="bold" text-anchor="end" stroke="#111" stroke-width="0.2">0</text>
<line x1="449.90" y1="114.10" x2="452.90" y2="114.10" stroke="#333" stroke-width="0.9"/>
<text x="445.6" y="116.80" font-size="8" font-weight="bold" text-anchor="end" stroke="#111" stroke-width="0.2">2</text>
<line x1="449.90" y1="83.30" x2="452.90" y2="83.30" stroke="#333" stroke-width="0.9"/>
<text x="445.6" y="86.00" font-size="8" font-weight="bold" text-anchor="end" stroke="#111" stroke-width="0.2">4</text>
<line x1="449.90" y1="52.50" x2="452.90" y2="52.50" stroke="#333" stroke-width="0.9"/>
<text x="445.6" y="55.20" font-size="8" font-weight="bold" text-anchor="end" stroke="#111" stroke-width="0.2">6</text>
<line x1="449.90" y1="21.70" x2="452.90" y2="21.70" stroke="#333" stroke-width="0.9"/>
<text x="445.6" y="24.40" font-size="8" font-weight="bold" text-anchor="end" stroke="#111" stroke-width="0.2">8</text>
<line x1="612.7" y1="10.80" x2="635.7" y2="10.80" stroke="#222222" stroke-width="1.3"/>
<text x="637.4" y="14.10" font-size="9.6" stroke="#111" stroke-width="0.15">113ns</text>
<line x1="612.7" y1="22.72" x2="635.7" y2="22.72" stroke="#e02525" stroke-width="1.3"/>
<text x="637.4" y="26.02" font-size="9.6" stroke="#111" stroke-width="0.15">114ns</text>
<line x1="612.7" y1="34.64" x2="635.7" y2="34.64" stroke="#2060e0" stroke-width="1.3"/>
<text x="637.4" y="37.94" font-size="9.6" stroke="#111" stroke-width="0.15">115ns</text>
<line x1="612.7" y1="46.56" x2="635.7" y2="46.56" stroke="#30a050" stroke-width="1.3"/>
<text x="637.4" y="49.86" font-size="9.6" stroke="#111" stroke-width="0.15">116ns</text>
<line x1="612.7" y1="58.48" x2="635.7" y2="58.48" stroke="#a060e8" stroke-width="1.3"/>
<text x="637.4" y="61.78" font-size="9.6" stroke="#111" stroke-width="0.15">117ns</text>
<line x1="612.7" y1="70.40" x2="635.7" y2="70.40" stroke="#d09010" stroke-width="1.3"/>
<text x="637.4" y="73.70" font-size="9.6" stroke="#111" stroke-width="0.15">118ns</text>
<line x1="612.7" y1="82.32" x2="635.7" y2="82.32" stroke="#30c8c8" stroke-width="1.3"/>
<text x="637.4" y="85.62" font-size="9.6" stroke="#111" stroke-width="0.15">119ns</text>
<line x1="612.7" y1="94.24" x2="635.7" y2="94.24" stroke="#603030" stroke-width="1.3"/>
<text x="637.4" y="97.54" font-size="9.6" stroke="#111" stroke-width="0.15">120ns</text>
<text x="524.5" y="169.6" font-size="10.6">z-axis(*10<tspan font-size="6.5" dy="-4.2">-4</tspan><tspan dy="4.2">m)</tspan></text>
<text x="414.8" y="13.3" font-size="17.5">(b)</text>
<g transform="translate(437,104) rotate(-90)">
<line x1="0.4" y1="-10.9" x2="0.4" y2="2.8" stroke="#111" stroke-width="0.9"/>
<line x1="15.7" y1="-10.9" x2="15.7" y2="2.8" stroke="#111" stroke-width="0.9"/>
<text x="2.6" y="0" font-size="11.5" font-style="italic">E</text>
<text x="10.0" y="1.8" font-size="6.5">1</text>
<line x1="3.3" y1="-10.7" x2="12" y2="-10.7" stroke="#111" stroke-width="0.8"/>
<path d="M13.4 -10.7 L11.2 -11.9 L11.2 -9.5 Z" fill="#111"/>
<text x="17.6" y="0" font-size="11.3">(*10<tspan font-size="6.8" dy="-4.3">5</tspan><tspan dy="4.3">V/m)</tspan></text>
</g>
<clipPath id="cpc"><rect x="450.40" y="176.10" width="210.60" height="136.60"/></clipPath>
<g clip-path="url(#cpc)" fill="none" stroke-width="1.25" stroke-linejoin="round">
<path d="M450.40 281.20 L451.90 274.90 L454.91 266.92 L457.17 264.40 L458.67 270.28 L460.63 270.70 L461.23 272.72 L461.98 272.36 L462.73 271.73 L463.48 271.72 L464.24 272.35 L464.84 262.26 L465.21 257.25 L465.44 251.19 L465.62 241.68 L465.74 229.17 L465.89 188.17 L466.27 305.56 L466.79 287.29 L467.40 281.20 L663.97 281.20" stroke="#222222"/>
<path d="M450.40 281.20 L451.90 274.90 L454.91 258.00 L457.17 253.90 L458.67 263.45 L460.63 270.70 L461.23 272.72 L461.98 272.36 L462.73 271.73 L463.48 271.72 L464.24 272.35 L464.99 272.20 L465.74 272.32 L466.49 272.85 L467.24 272.44 L468.00 273.27 L468.75 273.52 L469.50 273.47 L470.25 272.93 L471.00 272.89 L471.76 273.35 L472.51 272.88 L473.26 273.04 L474.01 273.22 L474.92 262.88 L475.29 257.89 L475.52 251.85 L475.70 242.36 L475.82 229.89 L475.97 189.01 L476.34 292.75 L476.87 284.09 L477.47 281.20 L663.97 281.20" stroke="#e02525"/>
<path d="M450.40 281.20 L451.90 274.90 L454.91 241.39 L457.17 234.37 L458.67 250.76 L460.63 270.70 L461.23 272.72 L461.98 272.36 L462.73 271.73 L463.48 271.72 L464.24 272.35 L464.99 272.20 L465.74 272.32 L466.49 272.85 L467.24 272.44 L468.00 273.27 L468.75 273.52 L469.50 273.47 L470.25 272.93 L471.00 272.89 L471.76 273.35 L472.51 272.88 L473.26 273.04 L474.01 273.22 L474.76 273.39 L475.52 273.94 L476.27 273.81 L477.02 273.26 L477.77 272.88 L478.52 273.22 L479.28 273.10 L480.03 272.84 L480.78 273.06 L481.53 272.81 L482.28 272.28 L483.04 272.69 L483.79 272.91 L484.54 272.54 L485.29 272.31 L486.04 272.00 L486.80 272.49 L487.40 264.43 L487.77 260.39 L488.00 255.49 L488.18 247.80 L488.30 237.69 L488.45 204.55 L488.83 307.03 L489.35 287.66 L489.96 281.20 L663.97 281.20" stroke="#2060e0"/>
<path d="M450.40 281.20 L451.90 274.90 L454.91 242.29 L457.17 235.42 L458.67 251.44 L460.63 270.70 L461.23 272.72 L461.98 272.36 L462.73 271.73 L463.48 271.72 L464.24 272.35 L464.99 272.20 L465.74 272.32 L466.49 272.85 L467.24 272.44 L468.00 273.27 L468.75 273.52 L469.50 273.47 L470.25 272.93 L471.00 272.89 L471.76 273.35 L472.51 272.88 L473.26 273.04 L474.01 273.22 L474.76 273.39 L475.52 273.94 L476.27 273.81 L477.02 273.26 L477.77 272.88 L478.52 273.22 L479.28 273.10 L480.03 272.84 L480.78 273.06 L481.53 272.81 L482.28 272.28 L483.04 272.69 L483.79 272.91 L484.54 272.54 L485.29 272.31 L486.04 272.00 L486.80 272.49 L487.55 272.47 L488.30 272.34 L489.05 273.11 L489.80 272.54 L490.56 272.66 L491.31 273.14 L492.06 273.15 L492.81 273.25 L493.56 272.53 L494.32 272.64 L495.07 272.71 L495.82 272.87 L496.57 273.30 L497.32 273.03 L498.08 273.23 L498.83 273.42 L499.58 273.34 L500.33 272.88 L501.08 273.18 L501.84 273.61 L502.74 263.68 L503.12 258.89 L503.34 253.10 L503.52 243.99 L503.64 232.03 L503.79 192.79 L504.17 308.29 L504.69 287.97 L505.30 281.20 L663.97 281.20" stroke="#30a050"/>
<path d="M450.40 281.20 L451.90 274.90 L454.91 245.50 L457.17 239.20 L458.67 253.90 L460.63 270.70 L461.23 272.72 L461.98 272.36 L462.73 271.73 L463.48 271.72 L464.24 272.35 L464.99 272.20 L465.74 272.32 L466.49 272.85 L467.24 272.44 L468.00 273.27 L468.75 273.52 L469.50 273.47 L470.25 272.93 L471.00 272.89 L471.76 273.35 L472.51 272.88 L473.26 273.04 L474.01 273.22 L474.76 273.39 L475.52 273.94 L476.27 273.81 L477.02 273.26 L477.77 272.88 L478.52 273.22 L479.28 273.10 L480.03 272.84 L480.78 273.06 L481.53 272.81 L482.28 272.28 L483.04 272.69 L483.79 272.91 L484.54 272.54 L485.29 272.31 L486.04 272.00 L486.80 272.49 L487.55 272.47 L488.30 272.34 L489.05 273.11 L489.80 272.54 L490.56 272.66 L491.31 273.14 L492.06 273.15 L492.81 273.25 L493.56 272.53 L494.32 272.64 L495.07 272.71 L495.82 272.87 L496.57 273.30 L497.32 273.03 L498.08 273.23 L498.83 273.42 L499.58 273.34 L500.33 272.88 L501.08 273.18 L501.84 273.61 L502.59 273.89 L503.34 274.12 L504.09 273.45 L504.84 273.26 L505.60 272.99 L506.35 273.58 L507.10 274.09 L507.85 273.73 L508.60 273.87 L509.36 274.23 L510.11 273.91 L510.86 274.23 L511.61 274.28 L512.36 273.77 L513.12 273.40 L513.87 273.99 L514.62 273.71 L515.37 273.16 L516.12 273.19 L516.88 273.79 L517.63 273.29 L518.38 272.93 L519.13 272.61 L519.88 272.67 L520.64 261.64 L521.01 256.22 L521.24 249.66 L521.42 239.36 L521.54 225.83 L521.69 181.45 L522.07 306.19 L522.59 287.45 L523.19 281.20 L663.97 281.20" stroke="#a060e8"/>
<path d="M450.40 281.20 L451.90 274.90 L454.91 255.32 L457.17 250.75 L458.67 261.41 L460.63 270.70 L461.23 272.72 L461.98 272.36 L462.73 271.73 L463.48 271.72 L464.24 272.35 L464.99 272.20 L465.74 272.32 L466.49 272.85 L467.24 272.44 L468.00 273.27 L468.75 273.52 L469.50 273.47 L470.25 272.93 L471.00 272.89 L471.76 273.35 L472.51 272.88 L473.26 273.04 L474.01 273.22 L474.76 273.39 L475.52 273.94 L476.27 273.81 L477.02 273.26 L477.77 272.88 L478.52 273.22 L479.28 273.10 L480.03 272.84 L480.78 273.06 L481.53 272.81 L482.28 272.28 L483.04 272.69 L483.79 272.91 L484.54 272.54 L485.29 272.31 L486.04 272.00 L486.80 272.49 L487.55 272.47 L488.30 272.34 L489.05 273.11 L489.80 272.54 L490.56 272.66 L491.31 273.14 L492.06 273.15 L492.81 273.25 L493.56 272.53 L494.32 272.64 L495.07 272.71 L495.82 272.87 L496.57 273.30 L497.32 273.03 L498.08 273.23 L498.83 273.42 L499.58 273.34 L500.33 272.88 L501.08 273.18 L501.84 273.61 L502.59 273.89 L503.34 274.12 L504.09 273.45 L504.84 273.26 L505.60 272.99 L506.35 273.58 L507.10 274.09 L507.85 273.73 L508.60 273.87 L509.36 274.23 L510.11 273.91 L510.86 274.23 L511.61 274.28 L512.36 273.77 L513.12 273.40 L513.87 273.99 L514.62 273.71 L515.37 273.16 L516.12 273.19 L516.88 273.79 L517.63 273.29 L518.38 272.93 L519.13 272.61 L519.88 272.67 L520.64 273.10 L521.39 273.70 L522.14 273.64 L522.89 273.37 L523.64 272.78 L524.40 273.38 L525.15 274.36 L525.90 274.37 L526.65 274.38 L527.40 274.27 L528.16 273.99 L528.91 274.19 L529.66 274.83 L530.41 274.88 L531.16 274.50 L531.92 274.46 L532.67 273.99 L533.42 273.78 L534.17 274.23 L534.92 274.37 L535.68 274.21 L536.43 274.61 L537.18 274.66 L537.93 273.76 L538.68 273.80 L539.44 273.71 L540.19 274.06 L540.94 274.47 L541.69 274.64 L542.29 263.70 L542.67 258.27 L542.90 251.70 L543.08 241.38 L543.20 227.82 L543.35 183.34 L543.72 297.79 L544.25 285.35 L544.85 281.20 L663.97 281.20" stroke="#d09010"/>
<path d="M450.40 281.20 L451.90 274.90 L454.91 260.67 L457.17 257.05 L458.67 265.50 L460.63 270.70 L461.23 272.72 L461.98 272.36 L462.73 271.73 L463.48 271.72 L464.24 272.35 L464.99 272.20 L465.74 272.32 L466.49 272.85 L467.24 272.44 L468.00 273.27 L468.75 273.52 L469.50 273.47 L470.25 272.93 L471.00 272.89 L471.76 273.35 L472.51 272.88 L473.26 273.04 L474.01 273.22 L474.76 273.39 L475.52 273.94 L476.27 273.81 L477.02 273.26 L477.77 272.88 L478.52 273.22 L479.28 273.10 L480.03 272.84 L480.78 273.06 L481.53 272.81 L482.28 272.28 L483.04 272.69 L483.79 272.91 L484.54 272.54 L485.29 272.31 L486.04 272.00 L486.80 272.49 L487.55 272.47 L488.30 272.34 L489.05 273.11 L489.80 272.54 L490.56 272.66 L491.31 273.14 L492.06 273.15 L492.81 273.25 L493.56 272.53 L494.32 272.64 L495.07 272.71 L495.82 272.87 L496.57 273.30 L497.32 273.03 L498.08 273.23 L498.83 273.42 L499.58 273.34 L500.33 272.88 L501.08 273.18 L501.84 273.61 L502.59 273.89 L503.34 274.12 L504.09 273.45 L504.84 273.26 L505.60 272.99 L506.35 273.58 L507.10 274.09 L507.85 273.73 L508.60 273.87 L509.36 274.23 L510.11 273.91 L510.86 274.23 L511.61 274.28 L512.36 273.77 L513.12 273.40 L513.87 273.99 L514.62 273.71 L515.37 273.16 L516.12 273.19 L516.88 273.79 L517.63 273.29 L518.38 272.93 L519.13 272.61 L519.88 272.67 L520.64 273.10 L521.39 273.70 L522.14 273.64 L522.89 273.37 L523.64 272.78 L524.40 273.38 L525.15 274.36 L525.90 274.37 L526.65 274.38 L527.40 274.27 L528.16 273.99 L528.91 274.19 L529.66 274.83 L530.41 274.88 L531.16 274.50 L531.92 274.46 L532.67 273.99 L533.42 273.78 L534.17 274.23 L534.92 274.37 L535.68 274.21 L536.43 274.61 L537.18 274.66 L537.93 273.76 L538.68 273.80 L539.44 273.71 L540.19 274.06 L540.94 274.47 L541.69 274.64 L542.44 274.52 L543.20 274.31 L543.95 274.91 L544.70 274.75 L545.45 274.60 L546.20 274.49 L546.96 274.48 L547.71 274.84 L548.46 274.78 L549.21 274.65 L549.96 274.53 L550.72 274.52 L551.47 274.30 L552.22 273.58 L552.97 274.28 L553.72 274.80 L554.48 274.68 L555.23 274.63 L555.98 274.87 L556.73 274.68 L557.48 273.83 L558.24 274.14 L558.99 274.81 L559.74 275.16 L560.49 275.67 L561.24 275.53 L562.00 275.38 L562.75 275.08 L563.50 274.99 L564.25 275.88 L565.00 275.35 L565.76 274.62 L566.51 275.39 L567.26 275.51 L568.01 275.43 L568.76 275.61 L569.22 268.43 L569.59 264.89 L569.82 260.61 L570.00 253.89 L570.12 245.06 L570.27 216.10 L570.64 300.52 L571.17 286.03 L571.77 281.20 L663.97 281.20" stroke="#30c8c8"/>
<path d="M450.40 281.20 L451.90 274.90 L454.91 263.35 L457.17 260.20 L458.67 267.55 L460.63 270.70 L461.23 272.72 L461.98 272.36 L462.73 271.73 L463.48 271.72 L464.24 272.35 L464.99 272.20 L465.74 272.32 L466.49 272.85 L467.24 272.44 L468.00 273.27 L468.75 273.52 L469.50 273.47 L470.25 272.93 L471.00 272.89 L471.76 273.35 L472.51 272.88 L473.26 273.04 L474.01 273.22 L474.76 273.39 L475.52 273.94 L476.27 273.81 L477.02 273.26 L477.77 272.88 L478.52 273.22 L479.28 273.10 L480.03 272.84 L480.78 273.06 L481.53 272.81 L482.28 272.28 L483.04 272.69 L483.79 272.91 L484.54 272.54 L485.29 272.31 L486.04 272.00 L486.80 272.49 L487.55 272.47 L488.30 272.34 L489.05 273.11 L489.80 272.54 L490.56 272.66 L491.31 273.14 L492.06 273.15 L492.81 273.25 L493.56 272.53 L494.32 272.64 L495.07 272.71 L495.82 272.87 L496.57 273.30 L497.32 273.03 L498.08 273.23 L498.83 273.42 L499.58 273.34 L500.33 272.88 L501.08 273.18 L501.84 273.61 L502.59 273.89 L503.34 274.12 L504.09 273.45 L504.84 273.26 L505.60 272.99 L506.35 273.58 L507.10 274.09 L507.85 273.73 L508.60 273.87 L509.36 274.23 L510.11 273.91 L510.86 274.23 L511.61 274.28 L512.36 273.77 L513.12 273.40 L513.87 273.99 L514.62 273.71 L515.37 273.16 L516.12 273.19 L516.88 273.79 L517.63 273.29 L518.38 272.93 L519.13 272.61 L519.88 272.67 L520.64 273.10 L521.39 273.70 L522.14 273.64 L522.89 273.37 L523.64 272.78 L524.40 273.38 L525.15 274.36 L525.90 274.37 L526.65 274.38 L527.40 274.27 L528.16 273.99 L528.91 274.19 L529.66 274.83 L530.41 274.88 L531.16 274.50 L531.92 274.46 L532.67 273.99 L533.42 273.78 L534.17 274.23 L534.92 274.37 L535.68 274.21 L536.43 274.61 L537.18 274.66 L537.93 273.76 L538.68 273.80 L539.44 273.71 L540.19 274.06 L540.94 274.47 L541.69 274.64 L542.44 274.52 L543.20 274.31 L543.95 274.91 L544.70 274.75 L545.45 274.60 L546.20 274.49 L546.96 274.48 L547.71 274.84 L548.46 274.78 L549.21 274.65 L549.96 274.53 L550.72 274.52 L551.47 274.30 L552.22 273.58 L552.97 274.28 L553.72 274.80 L554.48 274.68 L555.23 274.63 L555.98 274.87 L556.73 274.68 L557.48 273.83 L558.24 274.14 L558.99 274.81 L559.74 275.16 L560.49 275.67 L561.24 275.53 L562.00 275.38 L562.75 275.08 L563.50 274.99 L564.25 275.88 L565.00 275.35 L565.76 274.62 L566.51 275.39 L567.26 275.51 L568.01 275.43 L568.76 275.61 L569.52 274.67 L570.27 274.20 L571.02 274.42 L571.77 274.89 L572.52 275.25 L573.28 275.24 L574.03 274.96 L574.78 274.41 L575.53 274.46 L576.28 274.49 L577.04 275.06 L577.79 274.72 L578.54 273.91 L579.29 273.82 L580.04 274.02 L580.80 274.08 L581.55 274.16 L582.30 274.68 L583.05 275.09 L583.80 274.94 L584.56 275.44 L585.31 275.89 L586.06 275.77 L586.81 275.58 L587.56 275.36 L588.32 274.75 L589.07 274.92 L589.82 275.20 L590.57 274.68 L591.32 274.71 L592.08 275.26 L592.83 276.09 L593.58 276.29 L594.33 276.34 L595.08 276.39 L595.84 276.08 L596.59 275.40 L597.34 275.12 L598.09 275.45 L598.84 275.70 L599.75 270.57 L600.12 268.15 L600.35 265.23 L600.53 260.63 L600.65 254.59 L600.80 234.79 L601.18 286.66 L601.70 282.56 L602.30 281.20 L663.97 281.20" stroke="#603030"/>
</g>
<path d="M450.40 312.70 V176.10 H661.00 V312.70" fill="none" stroke="#555" stroke-width="1.6"/>
<line x1="449.90" y1="312.70" x2="661.50" y2="312.70" stroke="#333" stroke-width="1.3"/>
<line x1="450.40" y1="312.70" x2="450.40" y2="310.20" stroke="#333" stroke-width="0.9"/>
<text x="450.40" y="323.5" font-size="7.6" text-anchor="middle">0</text>
<line x1="480.48" y1="312.70" x2="480.48" y2="310.20" stroke="#333" stroke-width="0.9"/>
<text x="480.48" y="323.5" font-size="7.6" text-anchor="middle">2</text>
<line x1="510.56" y1="312.70" x2="510.56" y2="310.20" stroke="#333" stroke-width="0.9"/>
<text x="510.56" y="323.5" font-size="7.6" text-anchor="middle">4</text>
<line x1="540.64" y1="312.70" x2="540.64" y2="310.20" stroke="#333" stroke-width="0.9"/>
<text x="540.64" y="323.5" font-size="7.6" text-anchor="middle">6</text>
<line x1="570.72" y1="312.70" x2="570.72" y2="310.20" stroke="#333" stroke-width="0.9"/>
<text x="570.72" y="323.5" font-size="7.6" text-anchor="middle">8</text>
<line x1="600.80" y1="312.70" x2="600.80" y2="310.20" stroke="#333" stroke-width="0.9"/>
<text x="600.80" y="323.5" font-size="7.6" text-anchor="middle">10</text>
<line x1="630.88" y1="312.70" x2="630.88" y2="310.20" stroke="#333" stroke-width="0.9"/>
<text x="630.88" y="323.5" font-size="7.6" text-anchor="middle">12</text>
<line x1="660.96" y1="312.70" x2="660.96" y2="310.20" stroke="#333" stroke-width="0.9"/>
<text x="660.96" y="323.5" font-size="7.6" text-anchor="middle">14</text>
<line x1="450.40" y1="281.20" x2="453.40" y2="281.20" stroke="#333" stroke-width="0.9"/>
<text x="446.3" y="283.50" font-size="7.3" text-anchor="end" stroke="#111" stroke-width="0.1">0</text>
<line x1="450.40" y1="239.20" x2="453.40" y2="239.20" stroke="#333" stroke-width="0.9"/>
<text x="446.3" y="241.50" font-size="7.3" text-anchor="end" stroke="#111" stroke-width="0.1">2</text>
<line x1="450.40" y1="197.20" x2="453.40" y2="197.20" stroke="#333" stroke-width="0.9"/>
<text x="446.3" y="199.50" font-size="7.3" text-anchor="end" stroke="#111" stroke-width="0.1">4</text>
<line x1="450.40" y1="302.20" x2="452.20" y2="302.20" stroke="#333" stroke-width="0.9"/>
<line x1="450.40" y1="260.20" x2="452.20" y2="260.20" stroke="#333" stroke-width="0.9"/>
<line x1="450.40" y1="218.20" x2="452.20" y2="218.20" stroke="#333" stroke-width="0.9"/>
<line x1="611.3" y1="183.90" x2="633.5" y2="183.90" stroke="#222222" stroke-width="1.3"/>
<text x="636.0" y="187.10" font-size="9.4" stroke="#111" stroke-width="0.15">113ns</text>
<line x1="611.3" y1="195.60" x2="633.5" y2="195.60" stroke="#e02525" stroke-width="1.3"/>
<text x="636.0" y="198.80" font-size="9.4" stroke="#111" stroke-width="0.15">114ns</text>
<line x1="611.3" y1="207.30" x2="633.5" y2="207.30" stroke="#2060e0" stroke-width="1.3"/>
<text x="636.0" y="210.50" font-size="9.4" stroke="#111" stroke-width="0.15">115ns</text>
<line x1="611.3" y1="219.00" x2="633.5" y2="219.00" stroke="#30a050" stroke-width="1.3"/>
<text x="636.0" y="222.20" font-size="9.4" stroke="#111" stroke-width="0.15">116ns</text>
<line x1="611.3" y1="230.70" x2="633.5" y2="230.70" stroke="#a060e8" stroke-width="1.3"/>
<text x="636.0" y="233.90" font-size="9.4" stroke="#111" stroke-width="0.15">117ns</text>
<line x1="611.3" y1="242.40" x2="633.5" y2="242.40" stroke="#d09010" stroke-width="1.3"/>
<text x="636.0" y="245.60" font-size="9.4" stroke="#111" stroke-width="0.15">118ns</text>
<line x1="611.3" y1="254.10" x2="633.5" y2="254.10" stroke="#30c8c8" stroke-width="1.3"/>
<text x="636.0" y="257.30" font-size="9.4" stroke="#111" stroke-width="0.15">119ns</text>
<line x1="611.3" y1="265.80" x2="633.5" y2="265.80" stroke="#603030" stroke-width="1.3"/>
<text x="636.0" y="269.00" font-size="9.4" stroke="#111" stroke-width="0.15">120ns</text>
<text x="522.6" y="335.3" font-size="9.4">z-axis(*10<tspan font-size="5.8" dy="-3.8">-4</tspan><tspan dy="3.8">m)</tspan></text>
<text x="418" y="180.5" font-size="19" font-weight="bold">(c)</text>
<g transform="translate(437,272) rotate(-90)">
<text x="0" y="-0.8" font-size="10.3" stroke="#111" stroke-width="0.15">ρ<tspan dy="3.2">sI</tspan><tspan dy="-3.2" dx="0.4" font-size="9.6">(*10</tspan><tspan font-size="5.8" dy="-4">3</tspan><tspan dy="4" font-size="9.6">C/m</tspan><tspan font-size="5.8" dy="-4">3</tspan><tspan dy="4" font-size="9.6">)</tspan></text>
</g></svg>
</div></body></html>
